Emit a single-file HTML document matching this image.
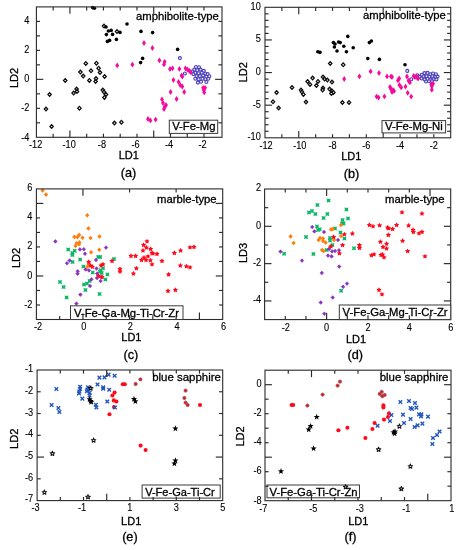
<!DOCTYPE html>
<html><head><meta charset="utf-8"><title>LDA scatter plots</title>
<style>html,body{margin:0;padding:0;background:#fff}svg{display:block}text{font-family:"Liberation Sans",sans-serif;stroke:#000;stroke-width:0.3px}text.t{stroke-width:0.12px}</style>
</head><body>
<svg width="460" height="550" viewBox="0 0 460 550">
<rect width="460" height="550" fill="#fff"/>
<g id="panel-a">
<g fill="#fff" stroke="#0a0a0a" stroke-width="1.25">
<path d="M104 26m0 -1.85l1.7 1.85l-1.7 1.85l-1.7 -1.85z"/>
<path d="M117 31.6m0 -1.85l1.7 1.85l-1.7 1.85l-1.7 -1.85z"/>
<path d="M85.8 63.4m0 -1.85l1.7 1.85l-1.7 1.85l-1.7 -1.85z"/>
<path d="M96.4 63.2m0 -1.85l1.7 1.85l-1.7 1.85l-1.7 -1.85z"/>
<path d="M98.6 68.2m0 -1.85l1.7 1.85l-1.7 1.85l-1.7 -1.85z"/>
<path d="M91 70.8m0 -1.85l1.7 1.85l-1.7 1.85l-1.7 -1.85z"/>
<path d="M80.4 72m0 -1.85l1.7 1.85l-1.7 1.85l-1.7 -1.85z"/>
<path d="M100 72.6m0 -1.85l1.7 1.85l-1.7 1.85l-1.7 -1.85z"/>
<path d="M83.2 76m0 -1.85l1.7 1.85l-1.7 1.85l-1.7 -1.85z"/>
<path d="M104.6 76.6m0 -1.85l1.7 1.85l-1.7 1.85l-1.7 -1.85z"/>
<path d="M65.2 80.6m0 -1.85l1.7 1.85l-1.7 1.85l-1.7 -1.85z"/>
<path d="M89.4 80.4m0 -1.85l1.7 1.85l-1.7 1.85l-1.7 -1.85z"/>
<path d="M96 78.6m0 -1.85l1.7 1.85l-1.7 1.85l-1.7 -1.85z"/>
<path d="M95.6 81.6m0 -1.85l1.7 1.85l-1.7 1.85l-1.7 -1.85z"/>
<path d="M76.6 89m0 -1.85l1.7 1.85l-1.7 1.85l-1.7 -1.85z"/>
<path d="M77 91.6m0 -1.85l1.7 1.85l-1.7 1.85l-1.7 -1.85z"/>
<path d="M73.6 93m0 -1.85l1.7 1.85l-1.7 1.85l-1.7 -1.85z"/>
<path d="M49.6 94.6m0 -1.85l1.7 1.85l-1.7 1.85l-1.7 -1.85z"/>
<path d="M102.8 90m0 -1.85l1.7 1.85l-1.7 1.85l-1.7 -1.85z"/>
<path d="M104 92m0 -1.85l1.7 1.85l-1.7 1.85l-1.7 -1.85z"/>
<path d="M106 94.6m0 -1.85l1.7 1.85l-1.7 1.85l-1.7 -1.85z"/>
<path d="M104.4 97.4m0 -1.85l1.7 1.85l-1.7 1.85l-1.7 -1.85z"/>
<path d="M46 109m0 -1.85l1.7 1.85l-1.7 1.85l-1.7 -1.85z"/>
<path d="M79.4 108.2m0 -1.85l1.7 1.85l-1.7 1.85l-1.7 -1.85z"/>
<path d="M51.6 126.6m0 -1.85l1.7 1.85l-1.7 1.85l-1.7 -1.85z"/>
<path d="M114.4 123m0 -1.85l1.7 1.85l-1.7 1.85l-1.7 -1.85z"/>
<path d="M121.4 122.2m0 -1.85l1.7 1.85l-1.7 1.85l-1.7 -1.85z"/>
</g>
<g fill="#000">
<circle cx="92.6" cy="7.6" r="1.8"/>
<circle cx="94.4" cy="8.3" r="1.8"/>
<circle cx="106" cy="27" r="1.8"/>
<circle cx="127" cy="24" r="1.8"/>
<circle cx="108.4" cy="31" r="1.8"/>
<circle cx="111.2" cy="30.4" r="1.8"/>
<circle cx="106.4" cy="34.6" r="1.8"/>
<circle cx="112.6" cy="34.4" r="1.8"/>
<circle cx="120" cy="32.4" r="1.8"/>
<circle cx="107.4" cy="41.4" r="1.8"/>
<circle cx="109.6" cy="40.4" r="1.8"/>
<circle cx="116.4" cy="39.4" r="1.8"/>
<circle cx="141" cy="31.4" r="1.8"/>
<circle cx="152.6" cy="32.6" r="1.8"/>
<circle cx="177.6" cy="49.4" r="1.8"/>
<circle cx="142.6" cy="58.4" r="1.8"/>
<circle cx="140.6" cy="62.6" r="1.8"/>
</g>
<g fill="#e6e3f8" fill-opacity="0.75" stroke="#4a3fba" stroke-width="1.1">
<circle cx="179.9" cy="58.1" r="1.5"/>
<circle cx="184.9" cy="73.5" r="1.5"/>
<circle cx="196" cy="67" r="1.5"/>
<circle cx="199" cy="67.2" r="1.5"/>
<circle cx="194.3" cy="69.6" r="1.5"/>
<circle cx="197.3" cy="70.2" r="1.5"/>
<circle cx="200.5" cy="69.6" r="1.5"/>
<circle cx="203.8" cy="70.9" r="1.5"/>
<circle cx="195.3" cy="72.8" r="1.5"/>
<circle cx="198.6" cy="73.2" r="1.5"/>
<circle cx="201.8" cy="72.8" r="1.5"/>
<circle cx="205.1" cy="73.5" r="1.5"/>
<circle cx="207.7" cy="74.1" r="1.5"/>
<circle cx="193.3" cy="74.1" r="1.5"/>
<circle cx="196.6" cy="76.1" r="1.5"/>
<circle cx="199.9" cy="76.1" r="1.5"/>
<circle cx="203.1" cy="75.4" r="1.5"/>
<circle cx="206.4" cy="76.7" r="1.5"/>
<circle cx="195.3" cy="78.7" r="1.5"/>
<circle cx="198.6" cy="79.3" r="1.5"/>
<circle cx="202.5" cy="78.7" r="1.5"/>
<circle cx="205.5" cy="79.3" r="1.5"/>
<circle cx="208.3" cy="78.7" r="1.5"/>
<circle cx="197.9" cy="82.6" r="1.5"/>
<circle cx="206.4" cy="82" r="1.5"/>
<circle cx="192" cy="71.5" r="1.5"/>
<circle cx="201" cy="81.8" r="1.5"/>
<circle cx="209.3" cy="76.2" r="1.5"/>
</g>
<g fill="#f20d9e">
<path d="M117.2 65.4m0 -2.9l1.95 2.9l-1.95 2.9l-1.95 -2.9z"/>
<path d="M144 43m0 -2.9l1.95 2.9l-1.95 2.9l-1.95 -2.9z"/>
<path d="M152.4 48m0 -2.9l1.95 2.9l-1.95 2.9l-1.95 -2.9z"/>
<path d="M159.4 60.4m0 -2.9l1.95 2.9l-1.95 2.9l-1.95 -2.9z"/>
<path d="M164.6 61.8m0 -2.9l1.95 2.9l-1.95 2.9l-1.95 -2.9z"/>
<path d="M164 64.4m0 -2.9l1.95 2.9l-1.95 2.9l-1.95 -2.9z"/>
<path d="M132.4 64.6m0 -2.9l1.95 2.9l-1.95 2.9l-1.95 -2.9z"/>
<path d="M170 69m0 -2.9l1.95 2.9l-1.95 2.9l-1.95 -2.9z"/>
<path d="M172.5 68.3m0 -2.9l1.95 2.9l-1.95 2.9l-1.95 -2.9z"/>
<path d="M179.4 68.9m0 -2.9l1.95 2.9l-1.95 2.9l-1.95 -2.9z"/>
<path d="M185.5 68.3m0 -2.9l1.95 2.9l-1.95 2.9l-1.95 -2.9z"/>
<path d="M187.5 69.6m0 -2.9l1.95 2.9l-1.95 2.9l-1.95 -2.9z"/>
<path d="M189.4 70.9m0 -2.9l1.95 2.9l-1.95 2.9l-1.95 -2.9z"/>
<path d="M190.7 72.2m0 -2.9l1.95 2.9l-1.95 2.9l-1.95 -2.9z"/>
<path d="M181.6 75.4m0 -2.9l1.95 2.9l-1.95 2.9l-1.95 -2.9z"/>
<path d="M182.3 76.7m0 -2.9l1.95 2.9l-1.95 2.9l-1.95 -2.9z"/>
<path d="M173.4 80m0 -2.9l1.95 2.9l-1.95 2.9l-1.95 -2.9z"/>
<path d="M178.6 82m0 -2.9l1.95 2.9l-1.95 2.9l-1.95 -2.9z"/>
<path d="M180.3 85.2m0 -2.9l1.95 2.9l-1.95 2.9l-1.95 -2.9z"/>
<path d="M182.3 86.5m0 -2.9l1.95 2.9l-1.95 2.9l-1.95 -2.9z"/>
<path d="M170.6 92m0 -2.9l1.95 2.9l-1.95 2.9l-1.95 -2.9z"/>
<path d="M184.2 92m0 -2.9l1.95 2.9l-1.95 2.9l-1.95 -2.9z"/>
<path d="M176.6 99m0 -2.9l1.95 2.9l-1.95 2.9l-1.95 -2.9z"/>
<path d="M162 99.4m0 -2.9l1.95 2.9l-1.95 2.9l-1.95 -2.9z"/>
<path d="M163 103m0 -2.9l1.95 2.9l-1.95 2.9l-1.95 -2.9z"/>
<path d="M166 105m0 -2.9l1.95 2.9l-1.95 2.9l-1.95 -2.9z"/>
<path d="M164.6 107m0 -2.9l1.95 2.9l-1.95 2.9l-1.95 -2.9z"/>
<path d="M164 109m0 -2.9l1.95 2.9l-1.95 2.9l-1.95 -2.9z"/>
<path d="M148 119m0 -2.9l1.95 2.9l-1.95 2.9l-1.95 -2.9z"/>
<path d="M150.4 120.4m0 -2.9l1.95 2.9l-1.95 2.9l-1.95 -2.9z"/>
<path d="M155.6 119.6m0 -2.9l1.95 2.9l-1.95 2.9l-1.95 -2.9z"/>
<path d="M203.1 87.8m0 -2.9l1.95 2.9l-1.95 2.9l-1.95 -2.9z"/>
<path d="M205.1 87.8m0 -2.9l1.95 2.9l-1.95 2.9l-1.95 -2.9z"/>
<path d="M203.8 90.2m0 -2.9l1.95 2.9l-1.95 2.9l-1.95 -2.9z"/>
<path d="M204.2 92.4m0 -2.9l1.95 2.9l-1.95 2.9l-1.95 -2.9z"/>
</g>
<rect x="36.4" y="6.9" width="185.6" height="130.4" fill="none" stroke="#2a2a2a" stroke-width="1.1"/>
<line x1="53.16" y1="137.3" x2="53.16" y2="133.7" stroke="#2a2a2a" stroke-width="1.15"/>
<line x1="53.16" y1="6.9" x2="53.16" y2="10.5" stroke="#2a2a2a" stroke-width="1.15"/>
<line x1="69.92" y1="137.3" x2="69.92" y2="130.4" stroke="#2a2a2a" stroke-width="1.15"/>
<line x1="69.92" y1="6.9" x2="69.92" y2="13.8" stroke="#2a2a2a" stroke-width="1.15"/>
<line x1="86.68" y1="137.3" x2="86.68" y2="133.7" stroke="#2a2a2a" stroke-width="1.15"/>
<line x1="86.68" y1="6.9" x2="86.68" y2="10.5" stroke="#2a2a2a" stroke-width="1.15"/>
<line x1="103.44" y1="137.3" x2="103.44" y2="133.7" stroke="#2a2a2a" stroke-width="1.15"/>
<line x1="103.44" y1="6.9" x2="103.44" y2="10.5" stroke="#2a2a2a" stroke-width="1.15"/>
<line x1="120.2" y1="137.3" x2="120.2" y2="133.7" stroke="#2a2a2a" stroke-width="1.15"/>
<line x1="120.2" y1="6.9" x2="120.2" y2="10.5" stroke="#2a2a2a" stroke-width="1.15"/>
<line x1="136.96" y1="137.3" x2="136.96" y2="133.7" stroke="#2a2a2a" stroke-width="1.15"/>
<line x1="136.96" y1="6.9" x2="136.96" y2="10.5" stroke="#2a2a2a" stroke-width="1.15"/>
<line x1="153.72" y1="137.3" x2="153.72" y2="130.4" stroke="#2a2a2a" stroke-width="1.15"/>
<line x1="153.72" y1="6.9" x2="153.72" y2="13.8" stroke="#2a2a2a" stroke-width="1.15"/>
<line x1="170.48" y1="137.3" x2="170.48" y2="133.7" stroke="#2a2a2a" stroke-width="1.15"/>
<line x1="170.48" y1="6.9" x2="170.48" y2="10.5" stroke="#2a2a2a" stroke-width="1.15"/>
<line x1="187.24" y1="137.3" x2="187.24" y2="133.7" stroke="#2a2a2a" stroke-width="1.15"/>
<line x1="187.24" y1="6.9" x2="187.24" y2="10.5" stroke="#2a2a2a" stroke-width="1.15"/>
<line x1="204" y1="137.3" x2="204" y2="133.7" stroke="#2a2a2a" stroke-width="1.15"/>
<line x1="204" y1="6.9" x2="204" y2="10.5" stroke="#2a2a2a" stroke-width="1.15"/>
<line x1="36.4" y1="122.81" x2="40" y2="122.81" stroke="#2a2a2a" stroke-width="1.15"/>
<line x1="222" y1="122.81" x2="218.4" y2="122.81" stroke="#2a2a2a" stroke-width="1.15"/>
<line x1="36.4" y1="108.32" x2="40" y2="108.32" stroke="#2a2a2a" stroke-width="1.15"/>
<line x1="222" y1="108.32" x2="218.4" y2="108.32" stroke="#2a2a2a" stroke-width="1.15"/>
<line x1="36.4" y1="93.83" x2="40" y2="93.83" stroke="#2a2a2a" stroke-width="1.15"/>
<line x1="222" y1="93.83" x2="218.4" y2="93.83" stroke="#2a2a2a" stroke-width="1.15"/>
<line x1="36.4" y1="79.34" x2="43.3" y2="79.34" stroke="#2a2a2a" stroke-width="1.15"/>
<line x1="222" y1="79.34" x2="215.1" y2="79.34" stroke="#2a2a2a" stroke-width="1.15"/>
<line x1="36.4" y1="64.86" x2="40" y2="64.86" stroke="#2a2a2a" stroke-width="1.15"/>
<line x1="222" y1="64.86" x2="218.4" y2="64.86" stroke="#2a2a2a" stroke-width="1.15"/>
<line x1="36.4" y1="50.37" x2="40" y2="50.37" stroke="#2a2a2a" stroke-width="1.15"/>
<line x1="222" y1="50.37" x2="218.4" y2="50.37" stroke="#2a2a2a" stroke-width="1.15"/>
<line x1="36.4" y1="35.88" x2="40" y2="35.88" stroke="#2a2a2a" stroke-width="1.15"/>
<line x1="222" y1="35.88" x2="218.4" y2="35.88" stroke="#2a2a2a" stroke-width="1.15"/>
<line x1="36.4" y1="21.39" x2="40" y2="21.39" stroke="#2a2a2a" stroke-width="1.15"/>
<line x1="222" y1="21.39" x2="218.4" y2="21.39" stroke="#2a2a2a" stroke-width="1.15"/>
<text class="t" transform="translate(35.6 147.9) scale(0.9 1)" font-size="10.2" text-anchor="middle" fill="#000">-12</text>
<text class="t" transform="translate(69.12 147.9) scale(0.9 1)" font-size="10.2" text-anchor="middle" fill="#000">-10</text>
<text class="t" transform="translate(101.94 147.9) scale(0.9 1)" font-size="10.2" text-anchor="middle" fill="#000">-8</text>
<text class="t" transform="translate(135.46 147.9) scale(0.9 1)" font-size="10.2" text-anchor="middle" fill="#000">-6</text>
<text class="t" transform="translate(168.98 147.9) scale(0.9 1)" font-size="10.2" text-anchor="middle" fill="#000">-4</text>
<text class="t" transform="translate(202.5 147.9) scale(0.9 1)" font-size="10.2" text-anchor="middle" fill="#000">-2</text>
<text class="t" transform="translate(29.3 24.16) scale(0.9 1)" font-size="10.2" text-anchor="end" fill="#000">4</text>
<text class="t" transform="translate(29.3 53.26) scale(0.9 1)" font-size="10.2" text-anchor="end" fill="#000">2</text>
<text class="t" transform="translate(29.3 82.37) scale(0.9 1)" font-size="10.2" text-anchor="end" fill="#000">0</text>
<text class="t" transform="translate(29.3 111.47) scale(0.9 1)" font-size="10.2" text-anchor="end" fill="#000">-2</text>
<text class="t" transform="translate(29.3 140.57) scale(0.9 1)" font-size="10.2" text-anchor="end" fill="#000">-4</text>
<text x="128.8" y="159.2" font-size="11.0" text-anchor="middle" fill="#000">LD1</text>
<text x="18" y="78" font-size="11.0" text-anchor="middle" fill="#000" transform="rotate(-90 18 78)">LD2</text>
<text x="128.6" y="177.4" font-size="12.7" text-anchor="middle" fill="#000">(a)</text>
<text x="136" y="19.8" font-size="11.3" text-anchor="start" fill="#000">amphibolite-type</text>
<rect x="169.3" y="120.2" width="48.4" height="13.2" fill="#fff" stroke="#3a3a3a" stroke-width="1"/>
<text x="172.2" y="129.5" font-size="11.3" text-anchor="start" fill="#000">V-Fe-Mg</text>
</g>
<g id="panel-b">
<g fill="#fff" stroke="#0a0a0a" stroke-width="1.25">
<path d="M330.2 63.6m0 -1.85l1.7 1.85l-1.7 1.85l-1.7 -1.85z"/>
<path d="M343.2 64.8m0 -1.85l1.7 1.85l-1.7 1.85l-1.7 -1.85z"/>
<path d="M312.6 78m0 -1.85l1.7 1.85l-1.7 1.85l-1.7 -1.85z"/>
<path d="M323 77m0 -1.85l1.7 1.85l-1.7 1.85l-1.7 -1.85z"/>
<path d="M324.6 79m0 -1.85l1.7 1.85l-1.7 1.85l-1.7 -1.85z"/>
<path d="M327.4 80m0 -1.85l1.7 1.85l-1.7 1.85l-1.7 -1.85z"/>
<path d="M307.6 81.6m0 -1.85l1.7 1.85l-1.7 1.85l-1.7 -1.85z"/>
<path d="M318 81.4m0 -1.85l1.7 1.85l-1.7 1.85l-1.7 -1.85z"/>
<path d="M332 82m0 -1.85l1.7 1.85l-1.7 1.85l-1.7 -1.85z"/>
<path d="M310 84.4m0 -1.85l1.7 1.85l-1.7 1.85l-1.7 -1.85z"/>
<path d="M316.4 85.6m0 -1.85l1.7 1.85l-1.7 1.85l-1.7 -1.85z"/>
<path d="M292 87.6m0 -1.85l1.7 1.85l-1.7 1.85l-1.7 -1.85z"/>
<path d="M323 88m0 -1.85l1.7 1.85l-1.7 1.85l-1.7 -1.85z"/>
<path d="M322.6 90m0 -1.85l1.7 1.85l-1.7 1.85l-1.7 -1.85z"/>
<path d="M329.6 89m0 -1.85l1.7 1.85l-1.7 1.85l-1.7 -1.85z"/>
<path d="M332 91m0 -1.85l1.7 1.85l-1.7 1.85l-1.7 -1.85z"/>
<path d="M333.4 92.4m0 -1.85l1.7 1.85l-1.7 1.85l-1.7 -1.85z"/>
<path d="M331.4 93.6m0 -1.85l1.7 1.85l-1.7 1.85l-1.7 -1.85z"/>
<path d="M301 90m0 -1.85l1.7 1.85l-1.7 1.85l-1.7 -1.85z"/>
<path d="M302 92m0 -1.85l1.7 1.85l-1.7 1.85l-1.7 -1.85z"/>
<path d="M303.4 94.4m0 -1.85l1.7 1.85l-1.7 1.85l-1.7 -1.85z"/>
<path d="M276.6 92.6m0 -1.85l1.7 1.85l-1.7 1.85l-1.7 -1.85z"/>
<path d="M273 101.8m0 -1.85l1.7 1.85l-1.7 1.85l-1.7 -1.85z"/>
<path d="M306 102m0 -1.85l1.7 1.85l-1.7 1.85l-1.7 -1.85z"/>
<path d="M342.4 102.6m0 -1.85l1.7 1.85l-1.7 1.85l-1.7 -1.85z"/>
<path d="M349 102.4m0 -1.85l1.7 1.85l-1.7 1.85l-1.7 -1.85z"/>
<path d="M278.6 108m0 -1.85l1.7 1.85l-1.7 1.85l-1.7 -1.85z"/>
</g>
<g fill="#000">
<circle cx="347.8" cy="36.4" r="1.8"/>
<circle cx="333.4" cy="42.6" r="1.8"/>
<circle cx="335" cy="44" r="1.8"/>
<circle cx="338.6" cy="42" r="1.8"/>
<circle cx="340.2" cy="42.6" r="1.8"/>
<circle cx="334.4" cy="47" r="1.8"/>
<circle cx="343.8" cy="46.2" r="1.8"/>
<circle cx="353.2" cy="47.8" r="1.8"/>
<circle cx="337" cy="51" r="1.8"/>
<circle cx="346.4" cy="51.8" r="1.8"/>
<circle cx="317.8" cy="51.8" r="1.8"/>
<circle cx="320" cy="52.4" r="1.8"/>
<circle cx="369.4" cy="42.6" r="1.8"/>
<circle cx="371.4" cy="41" r="1.8"/>
<circle cx="367.8" cy="58.6" r="1.8"/>
<circle cx="379.4" cy="59.4" r="1.8"/>
<circle cx="405" cy="64.8" r="1.8"/>
</g>
<g fill="#e6e3f8" fill-opacity="0.75" stroke="#4a3fba" stroke-width="1.1">
<circle cx="407.3" cy="70.9" r="1.5"/>
<circle cx="411.3" cy="79.3" r="1.5"/>
<circle cx="417.3" cy="75.2" r="1.5"/>
<circle cx="419.8" cy="76.6" r="1.5"/>
<circle cx="424.5" cy="73.1" r="1.5"/>
<circle cx="427.6" cy="72.9" r="1.5"/>
<circle cx="433" cy="73.5" r="1.5"/>
<circle cx="436" cy="74.3" r="1.5"/>
<circle cx="421.8" cy="74.8" r="1.5"/>
<circle cx="430.3" cy="74.4" r="1.5"/>
<circle cx="423.5" cy="76.5" r="1.5"/>
<circle cx="426.6" cy="76.2" r="1.5"/>
<circle cx="429.4" cy="76.8" r="1.5"/>
<circle cx="432.4" cy="76.3" r="1.5"/>
<circle cx="435.3" cy="76.9" r="1.5"/>
<circle cx="437.6" cy="76.6" r="1.5"/>
<circle cx="421.6" cy="78.4" r="1.5"/>
<circle cx="424.6" cy="79.4" r="1.5"/>
<circle cx="427.6" cy="79" r="1.5"/>
<circle cx="430.6" cy="79.5" r="1.5"/>
<circle cx="433.6" cy="79.1" r="1.5"/>
<circle cx="436.4" cy="79.4" r="1.5"/>
<circle cx="426" cy="81.5" r="1.5"/>
<circle cx="429" cy="81.3" r="1.5"/>
<circle cx="432" cy="81.1" r="1.5"/>
</g>
<g fill="#f20d9e">
<path d="M344.2 79m0 -2.9l1.95 2.9l-1.95 2.9l-1.95 -2.9z"/>
<path d="M359.4 76.4m0 -2.9l1.95 2.9l-1.95 2.9l-1.95 -2.9z"/>
<path d="M370.6 71.4m0 -2.9l1.95 2.9l-1.95 2.9l-1.95 -2.9z"/>
<path d="M379 73m0 -2.9l1.95 2.9l-1.95 2.9l-1.95 -2.9z"/>
<path d="M387 76.4m0 -2.9l1.95 2.9l-1.95 2.9l-1.95 -2.9z"/>
<path d="M391 76.4m0 -2.9l1.95 2.9l-1.95 2.9l-1.95 -2.9z"/>
<path d="M392 77m0 -2.9l1.95 2.9l-1.95 2.9l-1.95 -2.9z"/>
<path d="M399.2 78.5m0 -2.9l1.95 2.9l-1.95 2.9l-1.95 -2.9z"/>
<path d="M397.9 80.4m0 -2.9l1.95 2.9l-1.95 2.9l-1.95 -2.9z"/>
<path d="M399.4 85m0 -2.9l1.95 2.9l-1.95 2.9l-1.95 -2.9z"/>
<path d="M401.2 87.4m0 -2.9l1.95 2.9l-1.95 2.9l-1.95 -2.9z"/>
<path d="M405.5 86.6m0 -2.9l1.95 2.9l-1.95 2.9l-1.95 -2.9z"/>
<path d="M407.7 92.8m0 -2.9l1.95 2.9l-1.95 2.9l-1.95 -2.9z"/>
<path d="M411.2 96.6m0 -2.9l1.95 2.9l-1.95 2.9l-1.95 -2.9z"/>
<path d="M390 87m0 -2.9l1.95 2.9l-1.95 2.9l-1.95 -2.9z"/>
<path d="M391 89m0 -2.9l1.95 2.9l-1.95 2.9l-1.95 -2.9z"/>
<path d="M393 90m0 -2.9l1.95 2.9l-1.95 2.9l-1.95 -2.9z"/>
<path d="M392 92m0 -2.9l1.95 2.9l-1.95 2.9l-1.95 -2.9z"/>
<path d="M394 91m0 -2.9l1.95 2.9l-1.95 2.9l-1.95 -2.9z"/>
<path d="M376.6 96.6m0 -2.9l1.95 2.9l-1.95 2.9l-1.95 -2.9z"/>
<path d="M378.6 97.6m0 -2.9l1.95 2.9l-1.95 2.9l-1.95 -2.9z"/>
<path d="M384.4 96.4m0 -2.9l1.95 2.9l-1.95 2.9l-1.95 -2.9z"/>
<path d="M407 76.5m0 -2.9l1.95 2.9l-1.95 2.9l-1.95 -2.9z"/>
<path d="M409 81m0 -2.9l1.95 2.9l-1.95 2.9l-1.95 -2.9z"/>
<path d="M409.9 82.4m0 -2.9l1.95 2.9l-1.95 2.9l-1.95 -2.9z"/>
<path d="M413.6 75.9m0 -2.9l1.95 2.9l-1.95 2.9l-1.95 -2.9z"/>
<path d="M414.9 77.2m0 -2.9l1.95 2.9l-1.95 2.9l-1.95 -2.9z"/>
<path d="M418.1 78.5m0 -2.9l1.95 2.9l-1.95 2.9l-1.95 -2.9z"/>
<path d="M416.4 76.3m0 -2.9l1.95 2.9l-1.95 2.9l-1.95 -2.9z"/>
<path d="M417.3 77.7m0 -2.9l1.95 2.9l-1.95 2.9l-1.95 -2.9z"/>
<path d="M408.6 80.6m0 -2.9l1.95 2.9l-1.95 2.9l-1.95 -2.9z"/>
<path d="M431.2 84.3m0 -2.9l1.95 2.9l-1.95 2.9l-1.95 -2.9z"/>
<path d="M433.1 83.7m0 -2.9l1.95 2.9l-1.95 2.9l-1.95 -2.9z"/>
<path d="M431.8 86.3m0 -2.9l1.95 2.9l-1.95 2.9l-1.95 -2.9z"/>
<path d="M431.8 89.8m0 -2.9l1.95 2.9l-1.95 2.9l-1.95 -2.9z"/>
</g>
<rect x="265" y="7.3" width="185.7" height="130.5" fill="none" stroke="#2a2a2a" stroke-width="1.1"/>
<line x1="281.88" y1="137.8" x2="281.88" y2="134.2" stroke="#2a2a2a" stroke-width="1.15"/>
<line x1="281.88" y1="7.3" x2="281.88" y2="10.9" stroke="#2a2a2a" stroke-width="1.15"/>
<line x1="298.76" y1="137.8" x2="298.76" y2="130.9" stroke="#2a2a2a" stroke-width="1.15"/>
<line x1="298.76" y1="7.3" x2="298.76" y2="14.2" stroke="#2a2a2a" stroke-width="1.15"/>
<line x1="315.65" y1="137.8" x2="315.65" y2="134.2" stroke="#2a2a2a" stroke-width="1.15"/>
<line x1="315.65" y1="7.3" x2="315.65" y2="10.9" stroke="#2a2a2a" stroke-width="1.15"/>
<line x1="332.53" y1="137.8" x2="332.53" y2="134.2" stroke="#2a2a2a" stroke-width="1.15"/>
<line x1="332.53" y1="7.3" x2="332.53" y2="10.9" stroke="#2a2a2a" stroke-width="1.15"/>
<line x1="349.41" y1="137.8" x2="349.41" y2="134.2" stroke="#2a2a2a" stroke-width="1.15"/>
<line x1="349.41" y1="7.3" x2="349.41" y2="10.9" stroke="#2a2a2a" stroke-width="1.15"/>
<line x1="366.29" y1="137.8" x2="366.29" y2="134.2" stroke="#2a2a2a" stroke-width="1.15"/>
<line x1="366.29" y1="7.3" x2="366.29" y2="10.9" stroke="#2a2a2a" stroke-width="1.15"/>
<line x1="383.17" y1="137.8" x2="383.17" y2="130.9" stroke="#2a2a2a" stroke-width="1.15"/>
<line x1="383.17" y1="7.3" x2="383.17" y2="14.2" stroke="#2a2a2a" stroke-width="1.15"/>
<line x1="400.05" y1="137.8" x2="400.05" y2="134.2" stroke="#2a2a2a" stroke-width="1.15"/>
<line x1="400.05" y1="7.3" x2="400.05" y2="10.9" stroke="#2a2a2a" stroke-width="1.15"/>
<line x1="416.94" y1="137.8" x2="416.94" y2="134.2" stroke="#2a2a2a" stroke-width="1.15"/>
<line x1="416.94" y1="7.3" x2="416.94" y2="10.9" stroke="#2a2a2a" stroke-width="1.15"/>
<line x1="433.82" y1="137.8" x2="433.82" y2="134.2" stroke="#2a2a2a" stroke-width="1.15"/>
<line x1="433.82" y1="7.3" x2="433.82" y2="10.9" stroke="#2a2a2a" stroke-width="1.15"/>
<line x1="265" y1="131.28" x2="268.6" y2="131.28" stroke="#2a2a2a" stroke-width="1.15"/>
<line x1="450.7" y1="131.28" x2="447.1" y2="131.28" stroke="#2a2a2a" stroke-width="1.15"/>
<line x1="265" y1="124.75" x2="268.6" y2="124.75" stroke="#2a2a2a" stroke-width="1.15"/>
<line x1="450.7" y1="124.75" x2="447.1" y2="124.75" stroke="#2a2a2a" stroke-width="1.15"/>
<line x1="265" y1="118.23" x2="268.6" y2="118.23" stroke="#2a2a2a" stroke-width="1.15"/>
<line x1="450.7" y1="118.23" x2="447.1" y2="118.23" stroke="#2a2a2a" stroke-width="1.15"/>
<line x1="265" y1="111.7" x2="268.6" y2="111.7" stroke="#2a2a2a" stroke-width="1.15"/>
<line x1="450.7" y1="111.7" x2="447.1" y2="111.7" stroke="#2a2a2a" stroke-width="1.15"/>
<line x1="265" y1="105.18" x2="271.9" y2="105.18" stroke="#2a2a2a" stroke-width="1.15"/>
<line x1="450.7" y1="105.18" x2="443.8" y2="105.18" stroke="#2a2a2a" stroke-width="1.15"/>
<line x1="265" y1="98.65" x2="268.6" y2="98.65" stroke="#2a2a2a" stroke-width="1.15"/>
<line x1="450.7" y1="98.65" x2="447.1" y2="98.65" stroke="#2a2a2a" stroke-width="1.15"/>
<line x1="265" y1="92.13" x2="268.6" y2="92.13" stroke="#2a2a2a" stroke-width="1.15"/>
<line x1="450.7" y1="92.13" x2="447.1" y2="92.13" stroke="#2a2a2a" stroke-width="1.15"/>
<line x1="265" y1="85.6" x2="268.6" y2="85.6" stroke="#2a2a2a" stroke-width="1.15"/>
<line x1="450.7" y1="85.6" x2="447.1" y2="85.6" stroke="#2a2a2a" stroke-width="1.15"/>
<line x1="265" y1="79.08" x2="268.6" y2="79.08" stroke="#2a2a2a" stroke-width="1.15"/>
<line x1="450.7" y1="79.08" x2="447.1" y2="79.08" stroke="#2a2a2a" stroke-width="1.15"/>
<line x1="265" y1="72.55" x2="271.9" y2="72.55" stroke="#2a2a2a" stroke-width="1.15"/>
<line x1="450.7" y1="72.55" x2="443.8" y2="72.55" stroke="#2a2a2a" stroke-width="1.15"/>
<line x1="265" y1="66.03" x2="268.6" y2="66.03" stroke="#2a2a2a" stroke-width="1.15"/>
<line x1="450.7" y1="66.03" x2="447.1" y2="66.03" stroke="#2a2a2a" stroke-width="1.15"/>
<line x1="265" y1="59.5" x2="268.6" y2="59.5" stroke="#2a2a2a" stroke-width="1.15"/>
<line x1="450.7" y1="59.5" x2="447.1" y2="59.5" stroke="#2a2a2a" stroke-width="1.15"/>
<line x1="265" y1="52.98" x2="268.6" y2="52.98" stroke="#2a2a2a" stroke-width="1.15"/>
<line x1="450.7" y1="52.98" x2="447.1" y2="52.98" stroke="#2a2a2a" stroke-width="1.15"/>
<line x1="265" y1="46.45" x2="268.6" y2="46.45" stroke="#2a2a2a" stroke-width="1.15"/>
<line x1="450.7" y1="46.45" x2="447.1" y2="46.45" stroke="#2a2a2a" stroke-width="1.15"/>
<line x1="265" y1="39.93" x2="271.9" y2="39.93" stroke="#2a2a2a" stroke-width="1.15"/>
<line x1="450.7" y1="39.93" x2="443.8" y2="39.93" stroke="#2a2a2a" stroke-width="1.15"/>
<line x1="265" y1="33.4" x2="268.6" y2="33.4" stroke="#2a2a2a" stroke-width="1.15"/>
<line x1="450.7" y1="33.4" x2="447.1" y2="33.4" stroke="#2a2a2a" stroke-width="1.15"/>
<line x1="265" y1="26.88" x2="268.6" y2="26.88" stroke="#2a2a2a" stroke-width="1.15"/>
<line x1="450.7" y1="26.88" x2="447.1" y2="26.88" stroke="#2a2a2a" stroke-width="1.15"/>
<line x1="265" y1="20.35" x2="268.6" y2="20.35" stroke="#2a2a2a" stroke-width="1.15"/>
<line x1="450.7" y1="20.35" x2="447.1" y2="20.35" stroke="#2a2a2a" stroke-width="1.15"/>
<line x1="265" y1="13.83" x2="268.6" y2="13.83" stroke="#2a2a2a" stroke-width="1.15"/>
<line x1="450.7" y1="13.83" x2="447.1" y2="13.83" stroke="#2a2a2a" stroke-width="1.15"/>
<text class="t" transform="translate(266 149.3) scale(0.9 1)" font-size="10.2" text-anchor="middle" fill="#000">-12</text>
<text class="t" transform="translate(299.76 149.3) scale(0.9 1)" font-size="10.2" text-anchor="middle" fill="#000">-10</text>
<text class="t" transform="translate(332.53 149.3) scale(0.9 1)" font-size="10.2" text-anchor="middle" fill="#000">-8</text>
<text class="t" transform="translate(366.29 149.3) scale(0.9 1)" font-size="10.2" text-anchor="middle" fill="#000">-6</text>
<text class="t" transform="translate(400.05 149.3) scale(0.9 1)" font-size="10.2" text-anchor="middle" fill="#000">-4</text>
<text class="t" transform="translate(433.82 149.3) scale(0.9 1)" font-size="10.2" text-anchor="middle" fill="#000">-2</text>
<text class="t" transform="translate(260.8 9.67) scale(0.9 1)" font-size="10.2" text-anchor="end" fill="#000">10</text>
<text class="t" transform="translate(260.8 42.3) scale(0.9 1)" font-size="10.2" text-anchor="end" fill="#000">5</text>
<text class="t" transform="translate(260.8 74.92) scale(0.9 1)" font-size="10.2" text-anchor="end" fill="#000">0</text>
<text class="t" transform="translate(260.8 107.55) scale(0.9 1)" font-size="10.2" text-anchor="end" fill="#000">-5</text>
<text class="t" transform="translate(260.8 140.17) scale(0.9 1)" font-size="10.2" text-anchor="end" fill="#000">-10</text>
<text x="351.3" y="160.3" font-size="11.0" text-anchor="middle" fill="#000">LD1</text>
<text x="246.8" y="72.3" font-size="11.0" text-anchor="middle" fill="#000" transform="rotate(-90 246.8 72.3)">LD2</text>
<text x="351.6" y="177.6" font-size="12.7" text-anchor="middle" fill="#000">(b)</text>
<text x="363" y="19.4" font-size="11.3" text-anchor="start" fill="#000">amphibolite-type</text>
<rect x="382" y="120.6" width="63.6" height="12.3" fill="#fff" stroke="#3a3a3a" stroke-width="1"/>
<text x="385" y="129.6" font-size="11.3" text-anchor="start" fill="#000">V-Fe-Mg-Ni</text>
</g>
<g id="panel-c">
<g fill="#0bb868">
<path d="M68.2 249.4m-2 -2l2 0.5l2 -0.5l-0.5 2l0.5 2l-2 -0.5l-2 0.5l0.5 -2z"/>
<path d="M74.7 250.8m-2 -2l2 0.5l2 -0.5l-0.5 2l0.5 2l-2 -0.5l-2 0.5l0.5 -2z"/>
<path d="M72.4 253.1m-2 -2l2 0.5l2 -0.5l-0.5 2l0.5 2l-2 -0.5l-2 0.5l0.5 -2z"/>
<path d="M72.4 255m-2 -2l2 0.5l2 -0.5l-0.5 2l0.5 2l-2 -0.5l-2 0.5l0.5 -2z"/>
<path d="M80.1 259.5m-2 -2l2 0.5l2 -0.5l-0.5 2l0.5 2l-2 -0.5l-2 0.5l0.5 -2z"/>
<path d="M72.5 261.9m-2 -2l2 0.5l2 -0.5l-0.5 2l0.5 2l-2 -0.5l-2 0.5l0.5 -2z"/>
<path d="M98.2 256.9m-2 -2l2 0.5l2 -0.5l-0.5 2l0.5 2l-2 -0.5l-2 0.5l0.5 -2z"/>
<path d="M100.2 256.9m-2 -2l2 0.5l2 -0.5l-0.5 2l0.5 2l-2 -0.5l-2 0.5l0.5 -2z"/>
<path d="M114 259m-2 -2l2 0.5l2 -0.5l-0.5 2l0.5 2l-2 -0.5l-2 0.5l0.5 -2z"/>
<path d="M83.4 266.6m-2 -2l2 0.5l2 -0.5l-0.5 2l0.5 2l-2 -0.5l-2 0.5l0.5 -2z"/>
<path d="M92.7 272.5m-2 -2l2 0.5l2 -0.5l-0.5 2l0.5 2l-2 -0.5l-2 0.5l0.5 -2z"/>
<path d="M103 268.3m-2 -2l2 0.5l2 -0.5l-0.5 2l0.5 2l-2 -0.5l-2 0.5l0.5 -2z"/>
<path d="M100.8 270.3m-2 -2l2 0.5l2 -0.5l-0.5 2l0.5 2l-2 -0.5l-2 0.5l0.5 -2z"/>
<path d="M99.9 271.6m-2 -2l2 0.5l2 -0.5l-0.5 2l0.5 2l-2 -0.5l-2 0.5l0.5 -2z"/>
<path d="M101.7 272.9m-2 -2l2 0.5l2 -0.5l-0.5 2l0.5 2l-2 -0.5l-2 0.5l0.5 -2z"/>
<path d="M107.4 274.6m-2 -2l2 0.5l2 -0.5l-0.5 2l0.5 2l-2 -0.5l-2 0.5l0.5 -2z"/>
<path d="M105.4 279.6m-2 -2l2 0.5l2 -0.5l-0.5 2l0.5 2l-2 -0.5l-2 0.5l0.5 -2z"/>
<path d="M60 282m-2 -2l2 0.5l2 -0.5l-0.5 2l0.5 2l-2 -0.5l-2 0.5l0.5 -2z"/>
<path d="M63.6 287m-2 -2l2 0.5l2 -0.5l-0.5 2l0.5 2l-2 -0.5l-2 0.5l0.5 -2z"/>
<path d="M84 284.4m-2 -2l2 0.5l2 -0.5l-0.5 2l0.5 2l-2 -0.5l-2 0.5l0.5 -2z"/>
<path d="M87 283.6m-2 -2l2 0.5l2 -0.5l-0.5 2l0.5 2l-2 -0.5l-2 0.5l0.5 -2z"/>
<path d="M89.6 281m-2 -2l2 0.5l2 -0.5l-0.5 2l0.5 2l-2 -0.5l-2 0.5l0.5 -2z"/>
<path d="M85.4 290m-2 -2l2 0.5l2 -0.5l-0.5 2l0.5 2l-2 -0.5l-2 0.5l0.5 -2z"/>
<path d="M99.6 294m-2 -2l2 0.5l2 -0.5l-0.5 2l0.5 2l-2 -0.5l-2 0.5l0.5 -2z"/>
<path d="M66.6 297.6m-2 -2l2 0.5l2 -0.5l-0.5 2l0.5 2l-2 -0.5l-2 0.5l0.5 -2z"/>
</g>
<g fill="#8a2fbe" stroke="#8a2fbe" stroke-width="0.7" stroke-linejoin="round">
<path d="M55.4 241.4m0 -1.8l1.7 1.8l-1.7 1.8l-1.7 -1.8z"/>
<path d="M79.9 249.4m0 -1.8l1.7 1.8l-1.7 1.8l-1.7 -1.8z"/>
<path d="M83.8 249.3m0 -1.8l1.7 1.8l-1.7 1.8l-1.7 -1.8z"/>
<path d="M106 247.6m0 -1.8l1.7 1.8l-1.7 1.8l-1.7 -1.8z"/>
<path d="M85 253.8m0 -1.8l1.7 1.8l-1.7 1.8l-1.7 -1.8z"/>
<path d="M69.6 260.5m0 -1.8l1.7 1.8l-1.7 1.8l-1.7 -1.8z"/>
<path d="M67 263.3m0 -1.8l1.7 1.8l-1.7 1.8l-1.7 -1.8z"/>
<path d="M96 260m0 -1.8l1.7 1.8l-1.7 1.8l-1.7 -1.8z"/>
<path d="M77.7 271.3m0 -1.8l1.7 1.8l-1.7 1.8l-1.7 -1.8z"/>
<path d="M77.6 273.7m0 -1.8l1.7 1.8l-1.7 1.8l-1.7 -1.8z"/>
<path d="M85.6 269.5m0 -1.8l1.7 1.8l-1.7 1.8l-1.7 -1.8z"/>
<path d="M88.9 270.4m0 -1.8l1.7 1.8l-1.7 1.8l-1.7 -1.8z"/>
<path d="M96.5 268.5m0 -1.8l1.7 1.8l-1.7 1.8l-1.7 -1.8z"/>
<path d="M97.2 273.5m0 -1.8l1.7 1.8l-1.7 1.8l-1.7 -1.8z"/>
<path d="M97 278m0 -1.8l1.7 1.8l-1.7 1.8l-1.7 -1.8z"/>
<path d="M91.4 279.4m0 -1.8l1.7 1.8l-1.7 1.8l-1.7 -1.8z"/>
<path d="M100.6 281m0 -1.8l1.7 1.8l-1.7 1.8l-1.7 -1.8z"/>
<path d="M90 286m0 -1.8l1.7 1.8l-1.7 1.8l-1.7 -1.8z"/>
<path d="M80.4 294.6m0 -1.8l1.7 1.8l-1.7 1.8l-1.7 -1.8z"/>
<path d="M76.4 303.6m0 -1.8l1.7 1.8l-1.7 1.8l-1.7 -1.8z"/>
<path d="M101.7 277.2m0 -1.8l1.7 1.8l-1.7 1.8l-1.7 -1.8z"/>
</g>
<g fill="#ff7f0e">
<path d="M42.6 190.4m0 -2.3l2.15 2.3l-2.15 2.3l-2.15 -2.3z"/>
<path d="M46 194.6m0 -2.3l2.15 2.3l-2.15 2.3l-2.15 -2.3z"/>
<path d="M87.2 215.2m0 -2.3l2.15 2.3l-2.15 2.3l-2.15 -2.3z"/>
<path d="M88.4 228.4m0 -2.3l2.15 2.3l-2.15 2.3l-2.15 -2.3z"/>
<path d="M74.3 236.9m0 -2.3l2.15 2.3l-2.15 2.3l-2.15 -2.3z"/>
<path d="M77.4 237.1m0 -2.3l2.15 2.3l-2.15 2.3l-2.15 -2.3z"/>
<path d="M79.1 234.9m0 -2.3l2.15 2.3l-2.15 2.3l-2.15 -2.3z"/>
<path d="M82.5 237.7m0 -2.3l2.15 2.3l-2.15 2.3l-2.15 -2.3z"/>
<path d="M90.5 238m0 -2.3l2.15 2.3l-2.15 2.3l-2.15 -2.3z"/>
<path d="M99.5 236.5m0 -2.3l2.15 2.3l-2.15 2.3l-2.15 -2.3z"/>
<path d="M76.6 243.3m0 -2.3l2.15 2.3l-2.15 2.3l-2.15 -2.3z"/>
<path d="M79.4 242.4m0 -2.3l2.15 2.3l-2.15 2.3l-2.15 -2.3z"/>
<path d="M79 244.3m0 -2.3l2.15 2.3l-2.15 2.3l-2.15 -2.3z"/>
<path d="M75.5 246m0 -2.3l2.15 2.3l-2.15 2.3l-2.15 -2.3z"/>
<path d="M99.3 249.8m0 -2.3l2.15 2.3l-2.15 2.3l-2.15 -2.3z"/>
<path d="M91.1 252.3m0 -2.3l2.15 2.3l-2.15 2.3l-2.15 -2.3z"/>
<path d="M87.4 266.6m0 -2.3l2.15 2.3l-2.15 2.3l-2.15 -2.3z"/>
<path d="M88.6 265m0 -2.3l2.15 2.3l-2.15 2.3l-2.15 -2.3z"/>
</g>
<g fill="#ff0a1a">
<path d="M88.7 262m0 -2.75l0.82 1.62l1.79 0.28l-1.28 1.28l0.28 1.79l-1.62 -0.82l-1.62 0.82l0.28 -1.79l-1.28 -1.28l1.79 -0.28z"/>
<path d="M90.6 265.6m0 -2.75l0.82 1.62l1.79 0.28l-1.28 1.28l0.28 1.79l-1.62 -0.82l-1.62 0.82l0.28 -1.79l-1.28 -1.28l1.79 -0.28z"/>
<path d="M92.4 266.9m0 -2.75l0.82 1.62l1.79 0.28l-1.28 1.28l0.28 1.79l-1.62 -0.82l-1.62 0.82l0.28 -1.79l-1.28 -1.28l1.79 -0.28z"/>
<path d="M101.1 265.5m0 -2.75l0.82 1.62l1.79 0.28l-1.28 1.28l0.28 1.79l-1.62 -0.82l-1.62 0.82l0.28 -1.79l-1.28 -1.28l1.79 -0.28z"/>
<path d="M103 264.3m0 -2.75l0.82 1.62l1.79 0.28l-1.28 1.28l0.28 1.79l-1.62 -0.82l-1.62 0.82l0.28 -1.79l-1.28 -1.28l1.79 -0.28z"/>
<path d="M112 261m0 -2.75l0.82 1.62l1.79 0.28l-1.28 1.28l0.28 1.79l-1.62 -0.82l-1.62 0.82l0.28 -1.79l-1.28 -1.28l1.79 -0.28z"/>
<path d="M98.5 276m0 -2.75l0.82 1.62l1.79 0.28l-1.28 1.28l0.28 1.79l-1.62 -0.82l-1.62 0.82l0.28 -1.79l-1.28 -1.28l1.79 -0.28z"/>
<path d="M102 277m0 -2.75l0.82 1.62l1.79 0.28l-1.28 1.28l0.28 1.79l-1.62 -0.82l-1.62 0.82l0.28 -1.79l-1.28 -1.28l1.79 -0.28z"/>
<path d="M120 269m0 -2.75l0.82 1.62l1.79 0.28l-1.28 1.28l0.28 1.79l-1.62 -0.82l-1.62 0.82l0.28 -1.79l-1.28 -1.28l1.79 -0.28z"/>
<path d="M120 271.6m0 -2.75l0.82 1.62l1.79 0.28l-1.28 1.28l0.28 1.79l-1.62 -0.82l-1.62 0.82l0.28 -1.79l-1.28 -1.28l1.79 -0.28z"/>
<path d="M147 241.4m0 -2.75l0.82 1.62l1.79 0.28l-1.28 1.28l0.28 1.79l-1.62 -0.82l-1.62 0.82l0.28 -1.79l-1.28 -1.28l1.79 -0.28z"/>
<path d="M143.6 245m0 -2.75l0.82 1.62l1.79 0.28l-1.28 1.28l0.28 1.79l-1.62 -0.82l-1.62 0.82l0.28 -1.79l-1.28 -1.28l1.79 -0.28z"/>
<path d="M146.4 247.6m0 -2.75l0.82 1.62l1.79 0.28l-1.28 1.28l0.28 1.79l-1.62 -0.82l-1.62 0.82l0.28 -1.79l-1.28 -1.28l1.79 -0.28z"/>
<path d="M150.6 249m0 -2.75l0.82 1.62l1.79 0.28l-1.28 1.28l0.28 1.79l-1.62 -0.82l-1.62 0.82l0.28 -1.79l-1.28 -1.28l1.79 -0.28z"/>
<path d="M143 250.6m0 -2.75l0.82 1.62l1.79 0.28l-1.28 1.28l0.28 1.79l-1.62 -0.82l-1.62 0.82l0.28 -1.79l-1.28 -1.28l1.79 -0.28z"/>
<path d="M152 253m0 -2.75l0.82 1.62l1.79 0.28l-1.28 1.28l0.28 1.79l-1.62 -0.82l-1.62 0.82l0.28 -1.79l-1.28 -1.28l1.79 -0.28z"/>
<path d="M153 253.6m0 -2.75l0.82 1.62l1.79 0.28l-1.28 1.28l0.28 1.79l-1.62 -0.82l-1.62 0.82l0.28 -1.79l-1.28 -1.28l1.79 -0.28z"/>
<path d="M157 254m0 -2.75l0.82 1.62l1.79 0.28l-1.28 1.28l0.28 1.79l-1.62 -0.82l-1.62 0.82l0.28 -1.79l-1.28 -1.28l1.79 -0.28z"/>
<path d="M131 256m0 -2.75l0.82 1.62l1.79 0.28l-1.28 1.28l0.28 1.79l-1.62 -0.82l-1.62 0.82l0.28 -1.79l-1.28 -1.28l1.79 -0.28z"/>
<path d="M135.6 256m0 -2.75l0.82 1.62l1.79 0.28l-1.28 1.28l0.28 1.79l-1.62 -0.82l-1.62 0.82l0.28 -1.79l-1.28 -1.28l1.79 -0.28z"/>
<path d="M148 256.4m0 -2.75l0.82 1.62l1.79 0.28l-1.28 1.28l0.28 1.79l-1.62 -0.82l-1.62 0.82l0.28 -1.79l-1.28 -1.28l1.79 -0.28z"/>
<path d="M144 257.6m0 -2.75l0.82 1.62l1.79 0.28l-1.28 1.28l0.28 1.79l-1.62 -0.82l-1.62 0.82l0.28 -1.79l-1.28 -1.28l1.79 -0.28z"/>
<path d="M141.6 260m0 -2.75l0.82 1.62l1.79 0.28l-1.28 1.28l0.28 1.79l-1.62 -0.82l-1.62 0.82l0.28 -1.79l-1.28 -1.28l1.79 -0.28z"/>
<path d="M146 260m0 -2.75l0.82 1.62l1.79 0.28l-1.28 1.28l0.28 1.79l-1.62 -0.82l-1.62 0.82l0.28 -1.79l-1.28 -1.28l1.79 -0.28z"/>
<path d="M150.4 260.4m0 -2.75l0.82 1.62l1.79 0.28l-1.28 1.28l0.28 1.79l-1.62 -0.82l-1.62 0.82l0.28 -1.79l-1.28 -1.28l1.79 -0.28z"/>
<path d="M162 261m0 -2.75l0.82 1.62l1.79 0.28l-1.28 1.28l0.28 1.79l-1.62 -0.82l-1.62 0.82l0.28 -1.79l-1.28 -1.28l1.79 -0.28z"/>
<path d="M152 264.4m0 -2.75l0.82 1.62l1.79 0.28l-1.28 1.28l0.28 1.79l-1.62 -0.82l-1.62 0.82l0.28 -1.79l-1.28 -1.28l1.79 -0.28z"/>
<path d="M136.4 268.4m0 -2.75l0.82 1.62l1.79 0.28l-1.28 1.28l0.28 1.79l-1.62 -0.82l-1.62 0.82l0.28 -1.79l-1.28 -1.28l1.79 -0.28z"/>
<path d="M133.4 273.6m0 -2.75l0.82 1.62l1.79 0.28l-1.28 1.28l0.28 1.79l-1.62 -0.82l-1.62 0.82l0.28 -1.79l-1.28 -1.28l1.79 -0.28z"/>
<path d="M168.6 274.5m0 -2.75l0.82 1.62l1.79 0.28l-1.28 1.28l0.28 1.79l-1.62 -0.82l-1.62 0.82l0.28 -1.79l-1.28 -1.28l1.79 -0.28z"/>
<path d="M174.4 253m0 -2.75l0.82 1.62l1.79 0.28l-1.28 1.28l0.28 1.79l-1.62 -0.82l-1.62 0.82l0.28 -1.79l-1.28 -1.28l1.79 -0.28z"/>
<path d="M180.6 250.6m0 -2.75l0.82 1.62l1.79 0.28l-1.28 1.28l0.28 1.79l-1.62 -0.82l-1.62 0.82l0.28 -1.79l-1.28 -1.28l1.79 -0.28z"/>
<path d="M180.4 265.6m0 -2.75l0.82 1.62l1.79 0.28l-1.28 1.28l0.28 1.79l-1.62 -0.82l-1.62 0.82l0.28 -1.79l-1.28 -1.28l1.79 -0.28z"/>
<path d="M186.4 266.4m0 -2.75l0.82 1.62l1.79 0.28l-1.28 1.28l0.28 1.79l-1.62 -0.82l-1.62 0.82l0.28 -1.79l-1.28 -1.28l1.79 -0.28z"/>
<path d="M190 267.4m0 -2.75l0.82 1.62l1.79 0.28l-1.28 1.28l0.28 1.79l-1.62 -0.82l-1.62 0.82l0.28 -1.79l-1.28 -1.28l1.79 -0.28z"/>
<path d="M190 247.4m0 -2.75l0.82 1.62l1.79 0.28l-1.28 1.28l0.28 1.79l-1.62 -0.82l-1.62 0.82l0.28 -1.79l-1.28 -1.28l1.79 -0.28z"/>
<path d="M194 247m0 -2.75l0.82 1.62l1.79 0.28l-1.28 1.28l0.28 1.79l-1.62 -0.82l-1.62 0.82l0.28 -1.79l-1.28 -1.28l1.79 -0.28z"/>
<path d="M168 291m0 -2.75l0.82 1.62l1.79 0.28l-1.28 1.28l0.28 1.79l-1.62 -0.82l-1.62 0.82l0.28 -1.79l-1.28 -1.28l1.79 -0.28z"/>
<path d="M175.4 290m0 -2.75l0.82 1.62l1.79 0.28l-1.28 1.28l0.28 1.79l-1.62 -0.82l-1.62 0.82l0.28 -1.79l-1.28 -1.28l1.79 -0.28z"/>
</g>
<rect x="36.4" y="188.9" width="186.3" height="130.6" fill="none" stroke="#2a2a2a" stroke-width="1.1"/>
<line x1="82.97" y1="188.9" x2="82.97" y2="195.8" stroke="#2a2a2a" stroke-width="1.15"/>
<line x1="129.55" y1="188.9" x2="129.55" y2="192.5" stroke="#2a2a2a" stroke-width="1.15"/>
<line x1="176.12" y1="188.9" x2="176.12" y2="192.5" stroke="#2a2a2a" stroke-width="1.15"/>
<line x1="59.69" y1="319.5" x2="59.69" y2="315.9" stroke="#2a2a2a" stroke-width="1.15"/>
<line x1="82.97" y1="319.5" x2="82.97" y2="312.6" stroke="#2a2a2a" stroke-width="1.15"/>
<line x1="106.26" y1="319.5" x2="106.26" y2="315.9" stroke="#2a2a2a" stroke-width="1.15"/>
<line x1="129.55" y1="319.5" x2="129.55" y2="315.9" stroke="#2a2a2a" stroke-width="1.15"/>
<line x1="152.84" y1="319.5" x2="152.84" y2="315.9" stroke="#2a2a2a" stroke-width="1.15"/>
<line x1="176.12" y1="319.5" x2="176.12" y2="315.9" stroke="#2a2a2a" stroke-width="1.15"/>
<line x1="199.41" y1="319.5" x2="199.41" y2="312.6" stroke="#2a2a2a" stroke-width="1.15"/>
<line x1="36.4" y1="304.99" x2="40" y2="304.99" stroke="#2a2a2a" stroke-width="1.15"/>
<line x1="222.7" y1="304.99" x2="219.1" y2="304.99" stroke="#2a2a2a" stroke-width="1.15"/>
<line x1="36.4" y1="290.48" x2="40" y2="290.48" stroke="#2a2a2a" stroke-width="1.15"/>
<line x1="222.7" y1="290.48" x2="219.1" y2="290.48" stroke="#2a2a2a" stroke-width="1.15"/>
<line x1="36.4" y1="275.97" x2="43.3" y2="275.97" stroke="#2a2a2a" stroke-width="1.15"/>
<line x1="222.7" y1="275.97" x2="215.8" y2="275.97" stroke="#2a2a2a" stroke-width="1.15"/>
<line x1="36.4" y1="261.46" x2="40" y2="261.46" stroke="#2a2a2a" stroke-width="1.15"/>
<line x1="222.7" y1="261.46" x2="219.1" y2="261.46" stroke="#2a2a2a" stroke-width="1.15"/>
<line x1="36.4" y1="246.94" x2="40" y2="246.94" stroke="#2a2a2a" stroke-width="1.15"/>
<line x1="222.7" y1="246.94" x2="219.1" y2="246.94" stroke="#2a2a2a" stroke-width="1.15"/>
<line x1="36.4" y1="232.43" x2="40" y2="232.43" stroke="#2a2a2a" stroke-width="1.15"/>
<line x1="222.7" y1="232.43" x2="219.1" y2="232.43" stroke="#2a2a2a" stroke-width="1.15"/>
<line x1="36.4" y1="217.92" x2="40" y2="217.92" stroke="#2a2a2a" stroke-width="1.15"/>
<line x1="222.7" y1="217.92" x2="219.1" y2="217.92" stroke="#2a2a2a" stroke-width="1.15"/>
<line x1="36.4" y1="203.41" x2="43.3" y2="203.41" stroke="#2a2a2a" stroke-width="1.15"/>
<line x1="222.7" y1="203.41" x2="215.8" y2="203.41" stroke="#2a2a2a" stroke-width="1.15"/>
<rect x="70.5" y="305.8" width="112.5" height="13.7" fill="#fff" stroke="#3a3a3a" stroke-width="1"/>
<text x="74" y="316.9" font-size="11.3" text-anchor="start" fill="#000">V-Fe-Ga-Mg-Ti-Cr-Zr</text>
<line x1="82.97" y1="319.5" x2="82.97" y2="313.5" stroke="#2a2a2a" stroke-width="1.15"/>
<line x1="106.26" y1="319.5" x2="106.26" y2="315.3" stroke="#2a2a2a" stroke-width="1.15"/>
<line x1="129.55" y1="319.5" x2="129.55" y2="315.3" stroke="#2a2a2a" stroke-width="1.15"/>
<line x1="152.84" y1="319.5" x2="152.84" y2="315.3" stroke="#2a2a2a" stroke-width="1.15"/>
<line x1="176.12" y1="319.5" x2="176.12" y2="315.3" stroke="#2a2a2a" stroke-width="1.15"/>
<text class="t" transform="translate(38.1 329.7) scale(0.9 1)" font-size="10.2" text-anchor="middle" fill="#000">-2</text>
<text class="t" transform="translate(83.77 329.7) scale(0.9 1)" font-size="10.2" text-anchor="middle" fill="#000">0</text>
<text class="t" transform="translate(130.35 329.7) scale(0.9 1)" font-size="10.2" text-anchor="middle" fill="#000">2</text>
<text class="t" transform="translate(176.93 329.7) scale(0.9 1)" font-size="10.2" text-anchor="middle" fill="#000">4</text>
<text class="t" transform="translate(223.5 329.7) scale(0.9 1)" font-size="10.2" text-anchor="middle" fill="#000">6</text>
<text class="t" transform="translate(32.3 191.07) scale(0.9 1)" font-size="10.2" text-anchor="end" fill="#000">6</text>
<text class="t" transform="translate(32.3 220.22) scale(0.9 1)" font-size="10.2" text-anchor="end" fill="#000">4</text>
<text class="t" transform="translate(32.3 249.37) scale(0.9 1)" font-size="10.2" text-anchor="end" fill="#000">2</text>
<text class="t" transform="translate(32.3 278.51) scale(0.9 1)" font-size="10.2" text-anchor="end" fill="#000">0</text>
<text class="t" transform="translate(32.3 307.66) scale(0.9 1)" font-size="10.2" text-anchor="end" fill="#000">-2</text>
<text x="131.4" y="340.8" font-size="11.0" text-anchor="middle" fill="#000">LD1</text>
<text x="19.5" y="258" font-size="11.0" text-anchor="middle" fill="#000" transform="rotate(-90 19.5 258)">LD2</text>
<text x="130.9" y="358.5" font-size="12.7" text-anchor="middle" fill="#000">(c)</text>
<text x="157" y="202.6" font-size="11.3" text-anchor="start" fill="#000">marble-type</text>
</g>
<g id="panel-d">
<g fill="#0bb868">
<path d="M328.6 200.6m-2 -2l2 0.5l2 -0.5l-0.5 2l0.5 2l-2 -0.5l-2 0.5l0.5 -2z"/>
<path d="M317.4 205m-2 -2l2 0.5l2 -0.5l-0.5 2l0.5 2l-2 -0.5l-2 0.5l0.5 -2z"/>
<path d="M312 211m-2 -2l2 0.5l2 -0.5l-0.5 2l0.5 2l-2 -0.5l-2 0.5l0.5 -2z"/>
<path d="M309 212.4m-2 -2l2 0.5l2 -0.5l-0.5 2l0.5 2l-2 -0.5l-2 0.5l0.5 -2z"/>
<path d="M315.4 214m-2 -2l2 0.5l2 -0.5l-0.5 2l0.5 2l-2 -0.5l-2 0.5l0.5 -2z"/>
<path d="M327.4 214m-2 -2l2 0.5l2 -0.5l-0.5 2l0.5 2l-2 -0.5l-2 0.5l0.5 -2z"/>
<path d="M323.6 218m-2 -2l2 0.5l2 -0.5l-0.5 2l0.5 2l-2 -0.5l-2 0.5l0.5 -2z"/>
<path d="M346.4 209.6m-2 -2l2 0.5l2 -0.5l-0.5 2l0.5 2l-2 -0.5l-2 0.5l0.5 -2z"/>
<path d="M348 218.4m-2 -2l2 0.5l2 -0.5l-0.5 2l0.5 2l-2 -0.5l-2 0.5l0.5 -2z"/>
<path d="M342.6 220m-2 -2l2 0.5l2 -0.5l-0.5 2l0.5 2l-2 -0.5l-2 0.5l0.5 -2z"/>
<path d="M317 226.4m-2 -2l2 0.5l2 -0.5l-0.5 2l0.5 2l-2 -0.5l-2 0.5l0.5 -2z"/>
<path d="M318 230m-2 -2l2 0.5l2 -0.5l-0.5 2l0.5 2l-2 -0.5l-2 0.5l0.5 -2z"/>
<path d="M319.7 229.3m-2 -2l2 0.5l2 -0.5l-0.5 2l0.5 2l-2 -0.5l-2 0.5l0.5 -2z"/>
<path d="M342 223.6m-2 -2l2 0.5l2 -0.5l-0.5 2l0.5 2l-2 -0.5l-2 0.5l0.5 -2z"/>
<path d="M343.6 223.6m-2 -2l2 0.5l2 -0.5l-0.5 2l0.5 2l-2 -0.5l-2 0.5l0.5 -2z"/>
<path d="M335 228.4m-2 -2l2 0.5l2 -0.5l-0.5 2l0.5 2l-2 -0.5l-2 0.5l0.5 -2z"/>
<path d="M340.4 232.6m-2 -2l2 0.5l2 -0.5l-0.5 2l0.5 2l-2 -0.5l-2 0.5l0.5 -2z"/>
<path d="M306 237m-2 -2l2 0.5l2 -0.5l-0.5 2l0.5 2l-2 -0.5l-2 0.5l0.5 -2z"/>
<path d="M330 238m-2 -2l2 0.5l2 -0.5l-0.5 2l0.5 2l-2 -0.5l-2 0.5l0.5 -2z"/>
<path d="M330 240.6m-2 -2l2 0.5l2 -0.5l-0.5 2l0.5 2l-2 -0.5l-2 0.5l0.5 -2z"/>
<path d="M344.4 238.6m-2 -2l2 0.5l2 -0.5l-0.5 2l0.5 2l-2 -0.5l-2 0.5l0.5 -2z"/>
<path d="M354 248.2m-2 -2l2 0.5l2 -0.5l-0.5 2l0.5 2l-2 -0.5l-2 0.5l0.5 -2z"/>
<path d="M284.1 253.8m-2 -2l2 0.5l2 -0.5l-0.5 2l0.5 2l-2 -0.5l-2 0.5l0.5 -2z"/>
<path d="M332.4 245m-2 -2l2 0.5l2 -0.5l-0.5 2l0.5 2l-2 -0.5l-2 0.5l0.5 -2z"/>
<path d="M313.4 254m-2 -2l2 0.5l2 -0.5l-0.5 2l0.5 2l-2 -0.5l-2 0.5l0.5 -2z"/>
<path d="M341.1 290.7m-2 -2l2 0.5l2 -0.5l-0.5 2l0.5 2l-2 -0.5l-2 0.5l0.5 -2z"/>
<path d="M326.6 250m-2 -2l2 0.5l2 -0.5l-0.5 2l0.5 2l-2 -0.5l-2 0.5l0.5 -2z"/>
</g>
<g fill="#ff7f0e">
<path d="M290.6 236.4m0 -2.3l2.15 2.3l-2.15 2.3l-2.15 -2.3z"/>
<path d="M293.6 243m0 -2.3l2.15 2.3l-2.15 2.3l-2.15 -2.3z"/>
<path d="M341 225m0 -2.3l2.15 2.3l-2.15 2.3l-2.15 -2.3z"/>
<path d="M331 229.4m0 -2.3l2.15 2.3l-2.15 2.3l-2.15 -2.3z"/>
<path d="M332.9 229m0 -2.3l2.15 2.3l-2.15 2.3l-2.15 -2.3z"/>
<path d="M341 236m0 -2.3l2.15 2.3l-2.15 2.3l-2.15 -2.3z"/>
<path d="M320 238m0 -2.3l2.15 2.3l-2.15 2.3l-2.15 -2.3z"/>
<path d="M318.6 240m0 -2.3l2.15 2.3l-2.15 2.3l-2.15 -2.3z"/>
<path d="M323 238.6m0 -2.3l2.15 2.3l-2.15 2.3l-2.15 -2.3z"/>
<path d="M323 241m0 -2.3l2.15 2.3l-2.15 2.3l-2.15 -2.3z"/>
<path d="M325.6 242.6m0 -2.3l2.15 2.3l-2.15 2.3l-2.15 -2.3z"/>
<path d="M334 240m0 -2.3l2.15 2.3l-2.15 2.3l-2.15 -2.3z"/>
<path d="M322 250m0 -2.3l2.15 2.3l-2.15 2.3l-2.15 -2.3z"/>
<path d="M323.6 251m0 -2.3l2.15 2.3l-2.15 2.3l-2.15 -2.3z"/>
<path d="M330 247m0 -2.3l2.15 2.3l-2.15 2.3l-2.15 -2.3z"/>
</g>
<g fill="#8a2fbe" stroke="#8a2fbe" stroke-width="0.7" stroke-linejoin="round">
<path d="M312.2 227m0 -1.8l1.7 1.8l-1.7 1.8l-1.7 -1.8z"/>
<path d="M314.4 231.4m0 -1.8l1.7 1.8l-1.7 1.8l-1.7 -1.8z"/>
<path d="M324 232m0 -1.8l1.7 1.8l-1.7 1.8l-1.7 -1.8z"/>
<path d="M338 240m0 -1.8l1.7 1.8l-1.7 1.8l-1.7 -1.8z"/>
<path d="M280.5 251.6m0 -1.8l1.7 1.8l-1.7 1.8l-1.7 -1.8z"/>
<path d="M329 249m0 -1.8l1.7 1.8l-1.7 1.8l-1.7 -1.8z"/>
<path d="M332 251.4m0 -1.8l1.7 1.8l-1.7 1.8l-1.7 -1.8z"/>
<path d="M335 251m0 -1.8l1.7 1.8l-1.7 1.8l-1.7 -1.8z"/>
<path d="M339 250.3m0 -1.8l1.7 1.8l-1.7 1.8l-1.7 -1.8z"/>
<path d="M328 255.6m0 -1.8l1.7 1.8l-1.7 1.8l-1.7 -1.8z"/>
<path d="M331.6 256.4m0 -1.8l1.7 1.8l-1.7 1.8l-1.7 -1.8z"/>
<path d="M302 260.6m0 -1.8l1.7 1.8l-1.7 1.8l-1.7 -1.8z"/>
<path d="M339.2 266.6m0 -1.8l1.7 1.8l-1.7 1.8l-1.7 -1.8z"/>
<path d="M321.8 272.9m0 -1.8l1.7 1.8l-1.7 1.8l-1.7 -1.8z"/>
<path d="M347 283.6m0 -1.8l1.7 1.8l-1.7 1.8l-1.7 -1.8z"/>
<path d="M343.1 286.8m0 -1.8l1.7 1.8l-1.7 1.8l-1.7 -1.8z"/>
<path d="M332.7 297.5m0 -1.8l1.7 1.8l-1.7 1.8l-1.7 -1.8z"/>
<path d="M320.7 302.5m0 -1.8l1.7 1.8l-1.7 1.8l-1.7 -1.8z"/>
<path d="M324.3 313.7m0 -1.8l1.7 1.8l-1.7 1.8l-1.7 -1.8z"/>
</g>
<g fill="#ff0a1a">
<path d="M333.6 237m0 -2.75l0.82 1.62l1.79 0.28l-1.28 1.28l0.28 1.79l-1.62 -0.82l-1.62 0.82l0.28 -1.79l-1.28 -1.28l1.79 -0.28z"/>
<path d="M344.4 234.4m0 -2.75l0.82 1.62l1.79 0.28l-1.28 1.28l0.28 1.79l-1.62 -0.82l-1.62 0.82l0.28 -1.79l-1.28 -1.28l1.79 -0.28z"/>
<path d="M352.4 233.6m0 -2.75l0.82 1.62l1.79 0.28l-1.28 1.28l0.28 1.79l-1.62 -0.82l-1.62 0.82l0.28 -1.79l-1.28 -1.28l1.79 -0.28z"/>
<path d="M331 246.4m0 -2.75l0.82 1.62l1.79 0.28l-1.28 1.28l0.28 1.79l-1.62 -0.82l-1.62 0.82l0.28 -1.79l-1.28 -1.28l1.79 -0.28z"/>
<path d="M342.6 245.2m0 -2.75l0.82 1.62l1.79 0.28l-1.28 1.28l0.28 1.79l-1.62 -0.82l-1.62 0.82l0.28 -1.79l-1.28 -1.28l1.79 -0.28z"/>
<path d="M339.4 253.4m0 -2.75l0.82 1.62l1.79 0.28l-1.28 1.28l0.28 1.79l-1.62 -0.82l-1.62 0.82l0.28 -1.79l-1.28 -1.28l1.79 -0.28z"/>
<path d="M402 212.4m0 -2.75l0.82 1.62l1.79 0.28l-1.28 1.28l0.28 1.79l-1.62 -0.82l-1.62 0.82l0.28 -1.79l-1.28 -1.28l1.79 -0.28z"/>
<path d="M422 213.6m0 -2.75l0.82 1.62l1.79 0.28l-1.28 1.28l0.28 1.79l-1.62 -0.82l-1.62 0.82l0.28 -1.79l-1.28 -1.28l1.79 -0.28z"/>
<path d="M369.4 225m0 -2.75l0.82 1.62l1.79 0.28l-1.28 1.28l0.28 1.79l-1.62 -0.82l-1.62 0.82l0.28 -1.79l-1.28 -1.28l1.79 -0.28z"/>
<path d="M373 226.4m0 -2.75l0.82 1.62l1.79 0.28l-1.28 1.28l0.28 1.79l-1.62 -0.82l-1.62 0.82l0.28 -1.79l-1.28 -1.28l1.79 -0.28z"/>
<path d="M379.6 225.4m0 -2.75l0.82 1.62l1.79 0.28l-1.28 1.28l0.28 1.79l-1.62 -0.82l-1.62 0.82l0.28 -1.79l-1.28 -1.28l1.79 -0.28z"/>
<path d="M387.6 227.6m0 -2.75l0.82 1.62l1.79 0.28l-1.28 1.28l0.28 1.79l-1.62 -0.82l-1.62 0.82l0.28 -1.79l-1.28 -1.28l1.79 -0.28z"/>
<path d="M388.6 228.4m0 -2.75l0.82 1.62l1.79 0.28l-1.28 1.28l0.28 1.79l-1.62 -0.82l-1.62 0.82l0.28 -1.79l-1.28 -1.28l1.79 -0.28z"/>
<path d="M392.6 229m0 -2.75l0.82 1.62l1.79 0.28l-1.28 1.28l0.28 1.79l-1.62 -0.82l-1.62 0.82l0.28 -1.79l-1.28 -1.28l1.79 -0.28z"/>
<path d="M396.6 225m0 -2.75l0.82 1.62l1.79 0.28l-1.28 1.28l0.28 1.79l-1.62 -0.82l-1.62 0.82l0.28 -1.79l-1.28 -1.28l1.79 -0.28z"/>
<path d="M408.6 225.6m0 -2.75l0.82 1.62l1.79 0.28l-1.28 1.28l0.28 1.79l-1.62 -0.82l-1.62 0.82l0.28 -1.79l-1.28 -1.28l1.79 -0.28z"/>
<path d="M413 230m0 -2.75l0.82 1.62l1.79 0.28l-1.28 1.28l0.28 1.79l-1.62 -0.82l-1.62 0.82l0.28 -1.79l-1.28 -1.28l1.79 -0.28z"/>
<path d="M413.4 232m0 -2.75l0.82 1.62l1.79 0.28l-1.28 1.28l0.28 1.79l-1.62 -0.82l-1.62 0.82l0.28 -1.79l-1.28 -1.28l1.79 -0.28z"/>
<path d="M419 233.4m0 -2.75l0.82 1.62l1.79 0.28l-1.28 1.28l0.28 1.79l-1.62 -0.82l-1.62 0.82l0.28 -1.79l-1.28 -1.28l1.79 -0.28z"/>
<path d="M422 232m0 -2.75l0.82 1.62l1.79 0.28l-1.28 1.28l0.28 1.79l-1.62 -0.82l-1.62 0.82l0.28 -1.79l-1.28 -1.28l1.79 -0.28z"/>
<path d="M388.4 235m0 -2.75l0.82 1.62l1.79 0.28l-1.28 1.28l0.28 1.79l-1.62 -0.82l-1.62 0.82l0.28 -1.79l-1.28 -1.28l1.79 -0.28z"/>
<path d="M402.6 240.8m0 -2.75l0.82 1.62l1.79 0.28l-1.28 1.28l0.28 1.79l-1.62 -0.82l-1.62 0.82l0.28 -1.79l-1.28 -1.28l1.79 -0.28z"/>
<path d="M380.4 241.8m0 -2.75l0.82 1.62l1.79 0.28l-1.28 1.28l0.28 1.79l-1.62 -0.82l-1.62 0.82l0.28 -1.79l-1.28 -1.28l1.79 -0.28z"/>
<path d="M386.6 243.8m0 -2.75l0.82 1.62l1.79 0.28l-1.28 1.28l0.28 1.79l-1.62 -0.82l-1.62 0.82l0.28 -1.79l-1.28 -1.28l1.79 -0.28z"/>
<path d="M383 247m0 -2.75l0.82 1.62l1.79 0.28l-1.28 1.28l0.28 1.79l-1.62 -0.82l-1.62 0.82l0.28 -1.79l-1.28 -1.28l1.79 -0.28z"/>
<path d="M386.6 248.6m0 -2.75l0.82 1.62l1.79 0.28l-1.28 1.28l0.28 1.79l-1.62 -0.82l-1.62 0.82l0.28 -1.79l-1.28 -1.28l1.79 -0.28z"/>
<path d="M359.4 245.2m0 -2.75l0.82 1.62l1.79 0.28l-1.28 1.28l0.28 1.79l-1.62 -0.82l-1.62 0.82l0.28 -1.79l-1.28 -1.28l1.79 -0.28z"/>
<path d="M359.4 248m0 -2.75l0.82 1.62l1.79 0.28l-1.28 1.28l0.28 1.79l-1.62 -0.82l-1.62 0.82l0.28 -1.79l-1.28 -1.28l1.79 -0.28z"/>
<path d="M407.6 251.2m0 -2.75l0.82 1.62l1.79 0.28l-1.28 1.28l0.28 1.79l-1.62 -0.82l-1.62 0.82l0.28 -1.79l-1.28 -1.28l1.79 -0.28z"/>
<path d="M371.4 255.4m0 -2.75l0.82 1.62l1.79 0.28l-1.28 1.28l0.28 1.79l-1.62 -0.82l-1.62 0.82l0.28 -1.79l-1.28 -1.28l1.79 -0.28z"/>
<path d="M374 254.4m0 -2.75l0.82 1.62l1.79 0.28l-1.28 1.28l0.28 1.79l-1.62 -0.82l-1.62 0.82l0.28 -1.79l-1.28 -1.28l1.79 -0.28z"/>
<path d="M381 255m0 -2.75l0.82 1.62l1.79 0.28l-1.28 1.28l0.28 1.79l-1.62 -0.82l-1.62 0.82l0.28 -1.79l-1.28 -1.28l1.79 -0.28z"/>
<path d="M382.6 254.6m0 -2.75l0.82 1.62l1.79 0.28l-1.28 1.28l0.28 1.79l-1.62 -0.82l-1.62 0.82l0.28 -1.79l-1.28 -1.28l1.79 -0.28z"/>
<path d="M384 257.4m0 -2.75l0.82 1.62l1.79 0.28l-1.28 1.28l0.28 1.79l-1.62 -0.82l-1.62 0.82l0.28 -1.79l-1.28 -1.28l1.79 -0.28z"/>
<path d="M425 256.4m0 -2.75l0.82 1.62l1.79 0.28l-1.28 1.28l0.28 1.79l-1.62 -0.82l-1.62 0.82l0.28 -1.79l-1.28 -1.28l1.79 -0.28z"/>
<path d="M379 290m0 -2.75l0.82 1.62l1.79 0.28l-1.28 1.28l0.28 1.79l-1.62 -0.82l-1.62 0.82l0.28 -1.79l-1.28 -1.28l1.79 -0.28z"/>
<path d="M382 294.4m0 -2.75l0.82 1.62l1.79 0.28l-1.28 1.28l0.28 1.79l-1.62 -0.82l-1.62 0.82l0.28 -1.79l-1.28 -1.28l1.79 -0.28z"/>
</g>
<rect x="264.6" y="189" width="186.1" height="130.6" fill="none" stroke="#2a2a2a" stroke-width="1.1"/>
<line x1="285.28" y1="319.6" x2="285.28" y2="316" stroke="#2a2a2a" stroke-width="1.15"/>
<line x1="285.28" y1="189" x2="285.28" y2="192.6" stroke="#2a2a2a" stroke-width="1.15"/>
<line x1="305.96" y1="319.6" x2="305.96" y2="316" stroke="#2a2a2a" stroke-width="1.15"/>
<line x1="305.96" y1="189" x2="305.96" y2="192.6" stroke="#2a2a2a" stroke-width="1.15"/>
<line x1="326.63" y1="319.6" x2="326.63" y2="312.7" stroke="#2a2a2a" stroke-width="1.15"/>
<line x1="326.63" y1="189" x2="326.63" y2="195.9" stroke="#2a2a2a" stroke-width="1.15"/>
<line x1="347.31" y1="319.6" x2="347.31" y2="316" stroke="#2a2a2a" stroke-width="1.15"/>
<line x1="347.31" y1="189" x2="347.31" y2="192.6" stroke="#2a2a2a" stroke-width="1.15"/>
<line x1="367.99" y1="319.6" x2="367.99" y2="316" stroke="#2a2a2a" stroke-width="1.15"/>
<line x1="367.99" y1="189" x2="367.99" y2="192.6" stroke="#2a2a2a" stroke-width="1.15"/>
<line x1="388.67" y1="319.6" x2="388.67" y2="316" stroke="#2a2a2a" stroke-width="1.15"/>
<line x1="388.67" y1="189" x2="388.67" y2="192.6" stroke="#2a2a2a" stroke-width="1.15"/>
<line x1="409.34" y1="319.6" x2="409.34" y2="316" stroke="#2a2a2a" stroke-width="1.15"/>
<line x1="409.34" y1="189" x2="409.34" y2="192.6" stroke="#2a2a2a" stroke-width="1.15"/>
<line x1="430.02" y1="319.6" x2="430.02" y2="312.7" stroke="#2a2a2a" stroke-width="1.15"/>
<line x1="430.02" y1="189" x2="430.02" y2="195.9" stroke="#2a2a2a" stroke-width="1.15"/>
<line x1="264.6" y1="300.94" x2="271.5" y2="300.94" stroke="#2a2a2a" stroke-width="1.15"/>
<line x1="450.7" y1="300.94" x2="443.8" y2="300.94" stroke="#2a2a2a" stroke-width="1.15"/>
<line x1="264.6" y1="282.29" x2="268.2" y2="282.29" stroke="#2a2a2a" stroke-width="1.15"/>
<line x1="450.7" y1="282.29" x2="447.1" y2="282.29" stroke="#2a2a2a" stroke-width="1.15"/>
<line x1="264.6" y1="263.63" x2="271.5" y2="263.63" stroke="#2a2a2a" stroke-width="1.15"/>
<line x1="450.7" y1="263.63" x2="443.8" y2="263.63" stroke="#2a2a2a" stroke-width="1.15"/>
<line x1="264.6" y1="244.97" x2="268.2" y2="244.97" stroke="#2a2a2a" stroke-width="1.15"/>
<line x1="450.7" y1="244.97" x2="447.1" y2="244.97" stroke="#2a2a2a" stroke-width="1.15"/>
<line x1="264.6" y1="226.31" x2="271.5" y2="226.31" stroke="#2a2a2a" stroke-width="1.15"/>
<line x1="450.7" y1="226.31" x2="443.8" y2="226.31" stroke="#2a2a2a" stroke-width="1.15"/>
<line x1="264.6" y1="207.66" x2="268.2" y2="207.66" stroke="#2a2a2a" stroke-width="1.15"/>
<line x1="450.7" y1="207.66" x2="447.1" y2="207.66" stroke="#2a2a2a" stroke-width="1.15"/>
<rect x="339.3" y="305" width="111.4" height="14.6" fill="#fff" stroke="#3a3a3a" stroke-width="1"/>
<text x="342.6" y="316.2" font-size="11.3" text-anchor="start" fill="#000">V-Fe-Ga-Mg-Ti-Cr-Zr</text>
<line x1="347.31" y1="319.5" x2="347.31" y2="315.3" stroke="#2a2a2a" stroke-width="1.15"/>
<line x1="367.99" y1="319.5" x2="367.99" y2="315.3" stroke="#2a2a2a" stroke-width="1.15"/>
<line x1="388.67" y1="319.5" x2="388.67" y2="315.3" stroke="#2a2a2a" stroke-width="1.15"/>
<line x1="409.34" y1="319.5" x2="409.34" y2="315.3" stroke="#2a2a2a" stroke-width="1.15"/>
<line x1="430.02" y1="319.5" x2="430.02" y2="315.3" stroke="#2a2a2a" stroke-width="1.15"/>
<text class="t" transform="translate(285.88 331.2) scale(0.9 1)" font-size="10.2" text-anchor="middle" fill="#000">-2</text>
<text class="t" transform="translate(326.63 331.2) scale(0.9 1)" font-size="10.2" text-anchor="middle" fill="#000">0</text>
<text class="t" transform="translate(367.99 331.2) scale(0.9 1)" font-size="10.2" text-anchor="middle" fill="#000">2</text>
<text class="t" transform="translate(409.34 331.2) scale(0.9 1)" font-size="10.2" text-anchor="middle" fill="#000">4</text>
<text class="t" transform="translate(450.7 331.2) scale(0.9 1)" font-size="10.2" text-anchor="middle" fill="#000">6</text>
<text class="t" transform="translate(261.1 191.37) scale(0.9 1)" font-size="10.2" text-anchor="end" fill="#000">2</text>
<text class="t" transform="translate(261.1 228.69) scale(0.9 1)" font-size="10.2" text-anchor="end" fill="#000">0</text>
<text class="t" transform="translate(261.1 266) scale(0.9 1)" font-size="10.2" text-anchor="end" fill="#000">-2</text>
<text class="t" transform="translate(261.1 303.31) scale(0.9 1)" font-size="10.2" text-anchor="end" fill="#000">-4</text>
<text x="356.1" y="342.8" font-size="11.0" text-anchor="middle" fill="#000">LD1</text>
<text x="246.8" y="253" font-size="11.0" text-anchor="middle" fill="#000" transform="rotate(-90 246.8 253)">LD3</text>
<text x="355.2" y="358.8" font-size="12.7" text-anchor="middle" fill="#000">(d)</text>
<text x="385" y="202.6" font-size="11.3" text-anchor="start" fill="#000">marble-type</text>
</g>
<g id="panel-e">
<g fill="#ff0a1a">
<circle cx="122.8" cy="384.3" r="2.05"/>
<circle cx="124.8" cy="384.3" r="2.05"/>
<circle cx="114.6" cy="392.6" r="2.05"/>
<circle cx="112.4" cy="395.5" r="2.05"/>
<circle cx="113.8" cy="400.4" r="2.05"/>
<circle cx="116.4" cy="401.5" r="2.05"/>
<circle cx="114" cy="407" r="2.05"/>
<circle cx="109.5" cy="414.3" r="2.05"/>
<circle cx="200" cy="405" r="2.05"/>
<circle cx="140.6" cy="445.6" r="2.05"/>
<circle cx="145.6" cy="450" r="2.05"/>
</g>
<g fill="#ff0a1a" stroke="#7a6a6a" stroke-width="0.75">
<circle cx="140.4" cy="379.4" r="1.65"/>
<circle cx="135.6" cy="384" r="1.65"/>
<circle cx="185.6" cy="390.6" r="1.65"/>
<circle cx="184.4" cy="398" r="1.65"/>
<circle cx="185.6" cy="402.6" r="1.65"/>
<circle cx="187.6" cy="405" r="1.65"/>
</g>
<g fill="none" stroke="#2255bb" stroke-width="1.35">
<path d="M56.4 389m-1.8 -1.8l3.6 3.6m-3.6 0l3.6 -3.6"/>
<path d="M51.6 405m-1.8 -1.8l3.6 3.6m-3.6 0l3.6 -3.6"/>
<path d="M58.4 408m-1.8 -1.8l3.6 3.6m-3.6 0l3.6 -3.6"/>
<path d="M59.4 412m-1.8 -1.8l3.6 3.6m-3.6 0l3.6 -3.6"/>
<path d="M108.6 374.6m-1.8 -1.8l3.6 3.6m-3.6 0l3.6 -3.6"/>
<path d="M114.6 375.7m-1.8 -1.8l3.6 3.6m-3.6 0l3.6 -3.6"/>
<path d="M99.4 377.6m-1.8 -1.8l3.6 3.6m-3.6 0l3.6 -3.6"/>
<path d="M104.5 377.4m-1.8 -1.8l3.6 3.6m-3.6 0l3.6 -3.6"/>
<path d="M97.5 384.5m-1.8 -1.8l3.6 3.6m-3.6 0l3.6 -3.6"/>
<path d="M103.2 387.4m-1.8 -1.8l3.6 3.6m-3.6 0l3.6 -3.6"/>
<path d="M103.2 388.7m-1.8 -1.8l3.6 3.6m-3.6 0l3.6 -3.6"/>
<path d="M109.2 389.8m-1.8 -1.8l3.6 3.6m-3.6 0l3.6 -3.6"/>
<path d="M80.1 386.8m-1.8 -1.8l3.6 3.6m-3.6 0l3.6 -3.6"/>
<path d="M80.1 389m-1.8 -1.8l3.6 3.6m-3.6 0l3.6 -3.6"/>
<path d="M79.3 391.5m-1.8 -1.8l3.6 3.6m-3.6 0l3.6 -3.6"/>
<path d="M79 393.4m-1.8 -1.8l3.6 3.6m-3.6 0l3.6 -3.6"/>
<path d="M88 387.2m-1.8 -1.8l3.6 3.6m-3.6 0l3.6 -3.6"/>
<path d="M87.4 389.6m-1.8 -1.8l3.6 3.6m-3.6 0l3.6 -3.6"/>
<path d="M86.9 391.2m-1.8 -1.8l3.6 3.6m-3.6 0l3.6 -3.6"/>
<path d="M89.6 392.8m-1.8 -1.8l3.6 3.6m-3.6 0l3.6 -3.6"/>
<path d="M89.6 395.5m-1.8 -1.8l3.6 3.6m-3.6 0l3.6 -3.6"/>
<path d="M82.3 398.6m-1.8 -1.8l3.6 3.6m-3.6 0l3.6 -3.6"/>
<path d="M95.8 404.8m-1.8 -1.8l3.6 3.6m-3.6 0l3.6 -3.6"/>
<path d="M96.4 407.5m-1.8 -1.8l3.6 3.6m-3.6 0l3.6 -3.6"/>
<path d="M107.3 401.5m-1.8 -1.8l3.6 3.6m-3.6 0l3.6 -3.6"/>
<path d="M114.9 407.5m-1.8 -1.8l3.6 3.6m-3.6 0l3.6 -3.6"/>
</g>
<g fill="#fff" stroke="#111" stroke-width="1.05" stroke-linejoin="round">
<path d="M90.7 388.3m0 -2.35l0.59 1.54l1.65 0.08l-1.28 1.04l0.43 1.59l-1.38 -0.9l-1.38 0.9l0.43 -1.59l-1.28 -1.04l1.65 -0.08z"/>
<path d="M93.6 440.4m0 -2.35l0.59 1.54l1.65 0.08l-1.28 1.04l0.43 1.59l-1.38 -0.9l-1.38 0.9l0.43 -1.59l-1.28 -1.04l1.65 -0.08z"/>
<path d="M52.4 453.6m0 -2.35l0.59 1.54l1.65 0.08l-1.28 1.04l0.43 1.59l-1.38 -0.9l-1.38 0.9l0.43 -1.59l-1.28 -1.04l1.65 -0.08z"/>
<path d="M44.4 492.4m0 -2.35l0.59 1.54l1.65 0.08l-1.28 1.04l0.43 1.59l-1.38 -0.9l-1.38 0.9l0.43 -1.59l-1.28 -1.04l1.65 -0.08z"/>
<path d="M88 497m0 -2.35l0.59 1.54l1.65 0.08l-1.28 1.04l0.43 1.59l-1.38 -0.9l-1.38 0.9l0.43 -1.59l-1.28 -1.04l1.65 -0.08z"/>
</g>
<g fill="#000">
<path d="M89.6 399.3m0 -3.3l0.79 2.21l2.34 0.07l-1.85 1.44l0.66 2.25l-1.94 -1.32l-1.94 1.32l0.66 -2.25l-1.85 -1.44l2.34 -0.07z"/>
<path d="M90.7 401m0 -3.3l0.79 2.21l2.34 0.07l-1.85 1.44l0.66 2.25l-1.94 -1.32l-1.94 1.32l0.66 -2.25l-1.85 -1.44l2.34 -0.07z"/>
<path d="M91.2 402.2m0 -3.3l0.79 2.21l2.34 0.07l-1.85 1.44l0.66 2.25l-1.94 -1.32l-1.94 1.32l0.66 -2.25l-1.85 -1.44l2.34 -0.07z"/>
<path d="M134 399m0 -3.3l0.79 2.21l2.34 0.07l-1.85 1.44l0.66 2.25l-1.94 -1.32l-1.94 1.32l0.66 -2.25l-1.85 -1.44l2.34 -0.07z"/>
<path d="M135.4 401.4m0 -3.3l0.79 2.21l2.34 0.07l-1.85 1.44l0.66 2.25l-1.94 -1.32l-1.94 1.32l0.66 -2.25l-1.85 -1.44l2.34 -0.07z"/>
<path d="M175.4 428.6m0 -3.3l0.79 2.21l2.34 0.07l-1.85 1.44l0.66 2.25l-1.94 -1.32l-1.94 1.32l0.66 -2.25l-1.85 -1.44l2.34 -0.07z"/>
<path d="M175.4 460.6m0 -3.3l0.79 2.21l2.34 0.07l-1.85 1.44l0.66 2.25l-1.94 -1.32l-1.94 1.32l0.66 -2.25l-1.85 -1.44l2.34 -0.07z"/>
<path d="M174.4 463.6m0 -3.3l0.79 2.21l2.34 0.07l-1.85 1.44l0.66 2.25l-1.94 -1.32l-1.94 1.32l0.66 -2.25l-1.85 -1.44l2.34 -0.07z"/>
</g>
<rect x="142.1" y="485" width="78.1" height="13.1" fill="#fff" stroke="#3a3a3a" stroke-width="1"/>
<text x="145.2" y="495.9" font-size="11.05" text-anchor="start" fill="#000">V-Fe-Ga-Ti-Cr</text>
<rect x="37.1" y="370" width="185.6" height="130.6" fill="none" stroke="#2a2a2a" stroke-width="1.1"/>
<line x1="60.3" y1="500.6" x2="60.3" y2="497" stroke="#2a2a2a" stroke-width="1.15"/>
<line x1="60.3" y1="370" x2="60.3" y2="373.6" stroke="#2a2a2a" stroke-width="1.15"/>
<line x1="83.5" y1="500.6" x2="83.5" y2="497" stroke="#2a2a2a" stroke-width="1.15"/>
<line x1="83.5" y1="370" x2="83.5" y2="373.6" stroke="#2a2a2a" stroke-width="1.15"/>
<line x1="106.7" y1="500.6" x2="106.7" y2="493.7" stroke="#2a2a2a" stroke-width="1.15"/>
<line x1="106.7" y1="370" x2="106.7" y2="376.9" stroke="#2a2a2a" stroke-width="1.15"/>
<line x1="129.9" y1="500.6" x2="129.9" y2="497" stroke="#2a2a2a" stroke-width="1.15"/>
<line x1="129.9" y1="370" x2="129.9" y2="373.6" stroke="#2a2a2a" stroke-width="1.15"/>
<line x1="153.1" y1="500.6" x2="153.1" y2="497" stroke="#2a2a2a" stroke-width="1.15"/>
<line x1="153.1" y1="370" x2="153.1" y2="373.6" stroke="#2a2a2a" stroke-width="1.15"/>
<line x1="176.3" y1="500.6" x2="176.3" y2="497" stroke="#2a2a2a" stroke-width="1.15"/>
<line x1="176.3" y1="370" x2="176.3" y2="373.6" stroke="#2a2a2a" stroke-width="1.15"/>
<line x1="199.5" y1="500.6" x2="199.5" y2="497" stroke="#2a2a2a" stroke-width="1.15"/>
<line x1="199.5" y1="370" x2="199.5" y2="373.6" stroke="#2a2a2a" stroke-width="1.15"/>
<line x1="37.1" y1="478.83" x2="40.7" y2="478.83" stroke="#2a2a2a" stroke-width="1.15"/>
<line x1="222.7" y1="478.83" x2="219.1" y2="478.83" stroke="#2a2a2a" stroke-width="1.15"/>
<line x1="37.1" y1="457.07" x2="44" y2="457.07" stroke="#2a2a2a" stroke-width="1.15"/>
<line x1="222.7" y1="457.07" x2="215.8" y2="457.07" stroke="#2a2a2a" stroke-width="1.15"/>
<line x1="37.1" y1="435.3" x2="40.7" y2="435.3" stroke="#2a2a2a" stroke-width="1.15"/>
<line x1="222.7" y1="435.3" x2="219.1" y2="435.3" stroke="#2a2a2a" stroke-width="1.15"/>
<line x1="37.1" y1="413.53" x2="40.7" y2="413.53" stroke="#2a2a2a" stroke-width="1.15"/>
<line x1="222.7" y1="413.53" x2="219.1" y2="413.53" stroke="#2a2a2a" stroke-width="1.15"/>
<line x1="37.1" y1="391.77" x2="40.7" y2="391.77" stroke="#2a2a2a" stroke-width="1.15"/>
<line x1="222.7" y1="391.77" x2="219.1" y2="391.77" stroke="#2a2a2a" stroke-width="1.15"/>
<text class="t" transform="translate(35.6 510.8) scale(0.9 1)" font-size="10.2" text-anchor="middle" fill="#000">-3</text>
<text class="t" transform="translate(82 510.8) scale(0.9 1)" font-size="10.2" text-anchor="middle" fill="#000">-1</text>
<text class="t" transform="translate(129.9 510.8) scale(0.9 1)" font-size="10.2" text-anchor="middle" fill="#000">1</text>
<text class="t" transform="translate(176.3 510.8) scale(0.9 1)" font-size="10.2" text-anchor="middle" fill="#000">3</text>
<text class="t" transform="translate(222.7 510.8) scale(0.9 1)" font-size="10.2" text-anchor="middle" fill="#000">5</text>
<text class="t" transform="translate(33.1 372.27) scale(0.9 1)" font-size="10.2" text-anchor="end" fill="#000">-1</text>
<text class="t" transform="translate(33.1 393.92) scale(0.9 1)" font-size="10.2" text-anchor="end" fill="#000">-2</text>
<text class="t" transform="translate(33.1 415.57) scale(0.9 1)" font-size="10.2" text-anchor="end" fill="#000">-3</text>
<text class="t" transform="translate(33.1 437.22) scale(0.9 1)" font-size="10.2" text-anchor="end" fill="#000">-4</text>
<text class="t" transform="translate(33.1 458.87) scale(0.9 1)" font-size="10.2" text-anchor="end" fill="#000">-5</text>
<text class="t" transform="translate(33.1 480.52) scale(0.9 1)" font-size="10.2" text-anchor="end" fill="#000">-6</text>
<text class="t" transform="translate(33.1 502.17) scale(0.9 1)" font-size="10.2" text-anchor="end" fill="#000">-7</text>
<text x="131.2" y="524.5" font-size="11.0" text-anchor="middle" fill="#000">LD1</text>
<text x="18" y="438.8" font-size="11.0" text-anchor="middle" fill="#000" transform="rotate(-90 18 438.8)">LD2</text>
<text x="129.9" y="540.9" font-size="12.7" text-anchor="middle" fill="#000">(e)</text>
<text x="152.2" y="380.8" font-size="11.45" text-anchor="start" fill="#000">blue sapphire</text>
</g>
<g id="panel-f">
<g fill="#ff0a1a">
<circle cx="291.6" cy="405" r="2.05"/>
<circle cx="293.2" cy="405" r="2.05"/>
<circle cx="338.4" cy="430.3" r="2.05"/>
<circle cx="347.4" cy="427.8" r="2.05"/>
<circle cx="383.4" cy="405.4" r="2.05"/>
<circle cx="383.4" cy="407.4" r="2.05"/>
<circle cx="389" cy="413.4" r="2.05"/>
<circle cx="388" cy="417" r="2.05"/>
<circle cx="384" cy="419.6" r="2.05"/>
<circle cx="374.6" cy="423" r="2.05"/>
<circle cx="372.4" cy="429" r="2.05"/>
<circle cx="365.4" cy="438" r="2.05"/>
</g>
<g fill="#ff0a1a" stroke="#7a6a6a" stroke-width="0.75">
<circle cx="340" cy="381.6" r="1.65"/>
<circle cx="337.6" cy="385.6" r="1.65"/>
<circle cx="322.6" cy="394.6" r="1.65"/>
<circle cx="307.4" cy="405.6" r="1.65"/>
<circle cx="381.7" cy="391.8" r="1.65"/>
<circle cx="379.7" cy="393.9" r="1.65"/>
<circle cx="384.6" cy="395" r="1.65"/>
<circle cx="382.3" cy="396.2" r="1.65"/>
</g>
<g fill="none" stroke="#2255bb" stroke-width="1.35">
<path d="M400.4 402m-1.8 -1.8l3.6 3.6m-3.6 0l3.6 -3.6"/>
<path d="M409 401m-1.8 -1.8l3.6 3.6m-3.6 0l3.6 -3.6"/>
<path d="M415 403m-1.8 -1.8l3.6 3.6m-3.6 0l3.6 -3.6"/>
<path d="M410.6 408m-1.8 -1.8l3.6 3.6m-3.6 0l3.6 -3.6"/>
<path d="M412 409m-1.8 -1.8l3.6 3.6m-3.6 0l3.6 -3.6"/>
<path d="M416.4 407.6m-1.8 -1.8l3.6 3.6m-3.6 0l3.6 -3.6"/>
<path d="M391.4 415m-1.8 -1.8l3.6 3.6m-3.6 0l3.6 -3.6"/>
<path d="M403 414.6m-1.8 -1.8l3.6 3.6m-3.6 0l3.6 -3.6"/>
<path d="M419 414.4m-1.8 -1.8l3.6 3.6m-3.6 0l3.6 -3.6"/>
<path d="M421.4 414.4m-1.8 -1.8l3.6 3.6m-3.6 0l3.6 -3.6"/>
<path d="M421 416.4m-1.8 -1.8l3.6 3.6m-3.6 0l3.6 -3.6"/>
<path d="M428 416.6m-1.8 -1.8l3.6 3.6m-3.6 0l3.6 -3.6"/>
<path d="M410.6 419m-1.8 -1.8l3.6 3.6m-3.6 0l3.6 -3.6"/>
<path d="M390 421m-1.8 -1.8l3.6 3.6m-3.6 0l3.6 -3.6"/>
<path d="M404 423m-1.8 -1.8l3.6 3.6m-3.6 0l3.6 -3.6"/>
<path d="M422.4 423.6m-1.8 -1.8l3.6 3.6m-3.6 0l3.6 -3.6"/>
<path d="M417.6 425.4m-1.8 -1.8l3.6 3.6m-3.6 0l3.6 -3.6"/>
<path d="M414.6 427m-1.8 -1.8l3.6 3.6m-3.6 0l3.6 -3.6"/>
<path d="M377.6 425.8m-1.8 -1.8l3.6 3.6m-3.6 0l3.6 -3.6"/>
<path d="M439.6 431.5m-1.8 -1.8l3.6 3.6m-3.6 0l3.6 -3.6"/>
<path d="M437 435m-1.8 -1.8l3.6 3.6m-3.6 0l3.6 -3.6"/>
<path d="M433 438m-1.8 -1.8l3.6 3.6m-3.6 0l3.6 -3.6"/>
<path d="M432.4 444m-1.8 -1.8l3.6 3.6m-3.6 0l3.6 -3.6"/>
</g>
<g fill="#fff" stroke="#111" stroke-width="1.05" stroke-linejoin="round">
<path d="M399.4 426.4m0 -2.35l0.59 1.54l1.65 0.08l-1.28 1.04l0.43 1.59l-1.38 -0.9l-1.38 0.9l0.43 -1.59l-1.28 -1.04l1.65 -0.08z"/>
<path d="M378.6 449.6m0 -2.35l0.59 1.54l1.65 0.08l-1.28 1.04l0.43 1.59l-1.38 -0.9l-1.38 0.9l0.43 -1.59l-1.28 -1.04l1.65 -0.08z"/>
<path d="M410.4 466.4m0 -2.35l0.59 1.54l1.65 0.08l-1.28 1.04l0.43 1.59l-1.38 -0.9l-1.38 0.9l0.43 -1.59l-1.28 -1.04l1.65 -0.08z"/>
<path d="M401.3 488.8m0 -2.35l0.59 1.54l1.65 0.08l-1.28 1.04l0.43 1.59l-1.38 -0.9l-1.38 0.9l0.43 -1.59l-1.28 -1.04l1.65 -0.08z"/>
</g>
<g fill="#000">
<path d="M316.7 417m0 -3.3l0.79 2.21l2.34 0.07l-1.85 1.44l0.66 2.25l-1.94 -1.32l-1.94 1.32l0.66 -2.25l-1.85 -1.44l2.34 -0.07z"/>
<path d="M310.6 426.2m0 -3.3l0.79 2.21l2.34 0.07l-1.85 1.44l0.66 2.25l-1.94 -1.32l-1.94 1.32l0.66 -2.25l-1.85 -1.44l2.34 -0.07z"/>
<path d="M308.7 429.6m0 -3.3l0.79 2.21l2.34 0.07l-1.85 1.44l0.66 2.25l-1.94 -1.32l-1.94 1.32l0.66 -2.25l-1.85 -1.44l2.34 -0.07z"/>
<path d="M313.6 448.5m0 -3.3l0.79 2.21l2.34 0.07l-1.85 1.44l0.66 2.25l-1.94 -1.32l-1.94 1.32l0.66 -2.25l-1.85 -1.44l2.34 -0.07z"/>
<path d="M281 471.4m0 -3.3l0.79 2.21l2.34 0.07l-1.85 1.44l0.66 2.25l-1.94 -1.32l-1.94 1.32l0.66 -2.25l-1.85 -1.44l2.34 -0.07z"/>
<path d="M393.6 432.4m0 -3.3l0.79 2.21l2.34 0.07l-1.85 1.44l0.66 2.25l-1.94 -1.32l-1.94 1.32l0.66 -2.25l-1.85 -1.44l2.34 -0.07z"/>
<path d="M395 431.6m0 -3.3l0.79 2.21l2.34 0.07l-1.85 1.44l0.66 2.25l-1.94 -1.32l-1.94 1.32l0.66 -2.25l-1.85 -1.44l2.34 -0.07z"/>
<path d="M394.6 433.6m0 -3.3l0.79 2.21l2.34 0.07l-1.85 1.44l0.66 2.25l-1.94 -1.32l-1.94 1.32l0.66 -2.25l-1.85 -1.44l2.34 -0.07z"/>
</g>
<rect x="267" y="485" width="92.5" height="12.8" fill="#fff" stroke="#3a3a3a" stroke-width="1"/>
<text x="269.5" y="495.6" font-size="11.3" text-anchor="start" fill="#000">V-Fe-Ga-Ti-Cr-Zn</text>
<rect x="265" y="370.2" width="186" height="130.5" fill="none" stroke="#2a2a2a" stroke-width="1.1"/>
<line x1="288.25" y1="500.7" x2="288.25" y2="497.1" stroke="#2a2a2a" stroke-width="1.15"/>
<line x1="288.25" y1="370.2" x2="288.25" y2="373.8" stroke="#2a2a2a" stroke-width="1.15"/>
<line x1="311.5" y1="500.7" x2="311.5" y2="493.8" stroke="#2a2a2a" stroke-width="1.15"/>
<line x1="311.5" y1="370.2" x2="311.5" y2="377.1" stroke="#2a2a2a" stroke-width="1.15"/>
<line x1="334.75" y1="500.7" x2="334.75" y2="497.1" stroke="#2a2a2a" stroke-width="1.15"/>
<line x1="334.75" y1="370.2" x2="334.75" y2="373.8" stroke="#2a2a2a" stroke-width="1.15"/>
<line x1="358" y1="500.7" x2="358" y2="497.1" stroke="#2a2a2a" stroke-width="1.15"/>
<line x1="358" y1="370.2" x2="358" y2="373.8" stroke="#2a2a2a" stroke-width="1.15"/>
<line x1="381.25" y1="500.7" x2="381.25" y2="497.1" stroke="#2a2a2a" stroke-width="1.15"/>
<line x1="381.25" y1="370.2" x2="381.25" y2="373.8" stroke="#2a2a2a" stroke-width="1.15"/>
<line x1="404.5" y1="500.7" x2="404.5" y2="497.1" stroke="#2a2a2a" stroke-width="1.15"/>
<line x1="404.5" y1="370.2" x2="404.5" y2="373.8" stroke="#2a2a2a" stroke-width="1.15"/>
<line x1="427.75" y1="500.7" x2="427.75" y2="493.8" stroke="#2a2a2a" stroke-width="1.15"/>
<line x1="427.75" y1="370.2" x2="427.75" y2="377.1" stroke="#2a2a2a" stroke-width="1.15"/>
<line x1="265" y1="486.2" x2="268.6" y2="486.2" stroke="#2a2a2a" stroke-width="1.15"/>
<line x1="451" y1="486.2" x2="447.4" y2="486.2" stroke="#2a2a2a" stroke-width="1.15"/>
<line x1="265" y1="471.7" x2="268.6" y2="471.7" stroke="#2a2a2a" stroke-width="1.15"/>
<line x1="451" y1="471.7" x2="447.4" y2="471.7" stroke="#2a2a2a" stroke-width="1.15"/>
<line x1="265" y1="457.2" x2="271.9" y2="457.2" stroke="#2a2a2a" stroke-width="1.15"/>
<line x1="451" y1="457.2" x2="444.1" y2="457.2" stroke="#2a2a2a" stroke-width="1.15"/>
<line x1="265" y1="442.7" x2="268.6" y2="442.7" stroke="#2a2a2a" stroke-width="1.15"/>
<line x1="451" y1="442.7" x2="447.4" y2="442.7" stroke="#2a2a2a" stroke-width="1.15"/>
<line x1="265" y1="428.2" x2="268.6" y2="428.2" stroke="#2a2a2a" stroke-width="1.15"/>
<line x1="451" y1="428.2" x2="447.4" y2="428.2" stroke="#2a2a2a" stroke-width="1.15"/>
<line x1="265" y1="413.7" x2="268.6" y2="413.7" stroke="#2a2a2a" stroke-width="1.15"/>
<line x1="451" y1="413.7" x2="447.4" y2="413.7" stroke="#2a2a2a" stroke-width="1.15"/>
<line x1="265" y1="399.2" x2="268.6" y2="399.2" stroke="#2a2a2a" stroke-width="1.15"/>
<line x1="451" y1="399.2" x2="447.4" y2="399.2" stroke="#2a2a2a" stroke-width="1.15"/>
<line x1="265" y1="384.7" x2="271.9" y2="384.7" stroke="#2a2a2a" stroke-width="1.15"/>
<line x1="451" y1="384.7" x2="444.1" y2="384.7" stroke="#2a2a2a" stroke-width="1.15"/>
<g fill="#fff" stroke="#111" stroke-width="1.05" stroke-linejoin="round">
<path d="M345.6 487m0 -2.35l0.59 1.54l1.65 0.08l-1.28 1.04l0.43 1.59l-1.38 -0.9l-1.38 0.9l0.43 -1.59l-1.28 -1.04l1.65 -0.08z"/>
</g>
<text class="t" transform="translate(263.3 512) scale(0.9 1)" font-size="10.2" text-anchor="middle" fill="#000">-7</text>
<text class="t" transform="translate(313.3 512) scale(0.9 1)" font-size="10.2" text-anchor="middle" fill="#000">-5</text>
<text class="t" transform="translate(359.8 512) scale(0.9 1)" font-size="10.2" text-anchor="middle" fill="#000">-3</text>
<text class="t" transform="translate(406.3 512) scale(0.9 1)" font-size="10.2" text-anchor="middle" fill="#000">-1</text>
<text class="t" transform="translate(451.8 512) scale(0.9 1)" font-size="10.2" text-anchor="middle" fill="#000">1</text>
<text class="t" transform="translate(261.6 386.57) scale(0.9 1)" font-size="10.2" text-anchor="end" fill="#000">0</text>
<text class="t" transform="translate(261.6 415.82) scale(0.9 1)" font-size="10.2" text-anchor="end" fill="#000">-2</text>
<text class="t" transform="translate(261.6 445.07) scale(0.9 1)" font-size="10.2" text-anchor="end" fill="#000">-4</text>
<text class="t" transform="translate(261.6 474.32) scale(0.9 1)" font-size="10.2" text-anchor="end" fill="#000">-6</text>
<text class="t" transform="translate(261.6 503.57) scale(0.9 1)" font-size="10.2" text-anchor="end" fill="#000">-8</text>
<text x="358.3" y="524.5" font-size="11.0" text-anchor="middle" fill="#000">LD1</text>
<text x="244.2" y="436.4" font-size="11.0" text-anchor="middle" fill="#000" transform="rotate(-90 244.2 436.4)">LD2</text>
<text x="350.4" y="540.7" font-size="12.7" text-anchor="middle" fill="#000">(f)</text>
<text x="379.7" y="381.2" font-size="11.45" text-anchor="start" fill="#000">blue sapphire</text>
</g>
</svg>
</body></html>
